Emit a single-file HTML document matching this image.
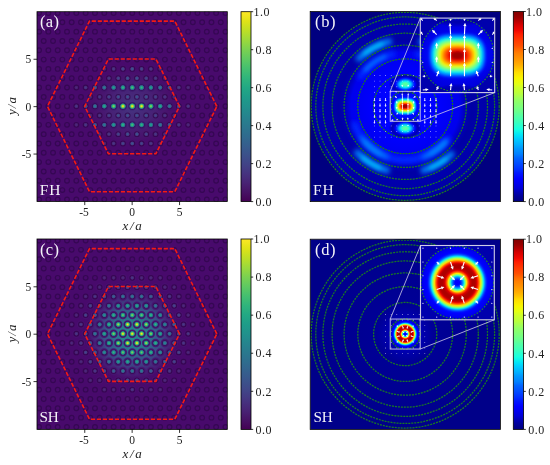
<!DOCTYPE html><html><head><meta charset="utf-8"><title>Figure</title><style>html,body{margin:0;padding:0;background:#fff;}svg{display:block;}</style></head><body><svg width="550" height="465" viewBox="0 0 550 465" font-family="'Liberation Serif', 'DejaVu Serif', serif"><defs><linearGradient id="gvir" x1="0" y1="1" x2="0" y2="0"><stop offset="0" stop-color="#440154"/><stop offset="0.05" stop-color="#471365"/><stop offset="0.1" stop-color="#482475"/><stop offset="0.15" stop-color="#463480"/><stop offset="0.2" stop-color="#414487"/><stop offset="0.25" stop-color="#3b528b"/><stop offset="0.3" stop-color="#355f8d"/><stop offset="0.35" stop-color="#2f6c8e"/><stop offset="0.4" stop-color="#2a788e"/><stop offset="0.45" stop-color="#25848e"/><stop offset="0.5" stop-color="#21918c"/><stop offset="0.55" stop-color="#1e9c89"/><stop offset="0.6" stop-color="#22a884"/><stop offset="0.65" stop-color="#2fb47c"/><stop offset="0.7" stop-color="#44bf70"/><stop offset="0.75" stop-color="#5ec962"/><stop offset="0.8" stop-color="#7ad151"/><stop offset="0.85" stop-color="#9bd93c"/><stop offset="0.9" stop-color="#bddf26"/><stop offset="0.95" stop-color="#dfe318"/><stop offset="1" stop-color="#fde725"/></linearGradient><linearGradient id="gjet" x1="0" y1="1" x2="0" y2="0"><stop offset="0" stop-color="#000080"/><stop offset="0.03" stop-color="#00009b"/><stop offset="0.05" stop-color="#0000b6"/><stop offset="0.07" stop-color="#0000d6"/><stop offset="0.1" stop-color="#0000f1"/><stop offset="0.12" stop-color="#0000ff"/><stop offset="0.15" stop-color="#0018ff"/><stop offset="0.17" stop-color="#0030ff"/><stop offset="0.2" stop-color="#004cff"/><stop offset="0.23" stop-color="#0064ff"/><stop offset="0.25" stop-color="#0080ff"/><stop offset="0.28" stop-color="#0098ff"/><stop offset="0.3" stop-color="#00b0ff"/><stop offset="0.33" stop-color="#00ccff"/><stop offset="0.35" stop-color="#00e4f8"/><stop offset="0.38" stop-color="#16ffe1"/><stop offset="0.4" stop-color="#29ffce"/><stop offset="0.42" stop-color="#3cffba"/><stop offset="0.45" stop-color="#53ffa4"/><stop offset="0.47" stop-color="#66ff90"/><stop offset="0.5" stop-color="#7dff7a"/><stop offset="0.53" stop-color="#90ff66"/><stop offset="0.55" stop-color="#a4ff53"/><stop offset="0.57" stop-color="#baff3c"/><stop offset="0.6" stop-color="#ceff29"/><stop offset="0.62" stop-color="#e4ff13"/><stop offset="0.65" stop-color="#f8f500"/><stop offset="0.68" stop-color="#ffde00"/><stop offset="0.7" stop-color="#ffc400"/><stop offset="0.72" stop-color="#ffae00"/><stop offset="0.75" stop-color="#ff9400"/><stop offset="0.78" stop-color="#ff7e00"/><stop offset="0.8" stop-color="#ff6800"/><stop offset="0.82" stop-color="#ff4e00"/><stop offset="0.85" stop-color="#ff3800"/><stop offset="0.88" stop-color="#ff1e00"/><stop offset="0.9" stop-color="#f10800"/><stop offset="0.93" stop-color="#d60000"/><stop offset="0.95" stop-color="#b60000"/><stop offset="0.97" stop-color="#9b0000"/><stop offset="1" stop-color="#800000"/></linearGradient><clipPath id="clipa"><rect x="37" y="11.7" width="190.3" height="189.9"/></clipPath><clipPath id="clipb"><rect x="310.2" y="11.5" width="190.2" height="190.1"/></clipPath><clipPath id="clipc"><rect x="37" y="239" width="190.3" height="190.4"/></clipPath><clipPath id="clipd"><rect x="310.2" y="239.2" width="190.2" height="190.2"/></clipPath><radialGradient id="sp0"><stop offset="0" stop-color="#460a5d" stop-opacity="1"/><stop offset="0.3" stop-color="#46085c" stop-opacity="1"/><stop offset="0.55" stop-color="#46075a" stop-opacity="1"/><stop offset="0.8" stop-color="#450457" stop-opacity="0.85"/><stop offset="1" stop-color="#440256" stop-opacity="0"/></radialGradient><radialGradient id="sp1"><stop offset="0" stop-color="#481c6e" stop-opacity="1"/><stop offset="0.3" stop-color="#481a6c" stop-opacity="1"/><stop offset="0.55" stop-color="#481467" stop-opacity="1"/><stop offset="0.8" stop-color="#470d60" stop-opacity="0.85"/><stop offset="1" stop-color="#46075a" stop-opacity="0"/></radialGradient><radialGradient id="sp2"><stop offset="0" stop-color="#472d7b" stop-opacity="1"/><stop offset="0.3" stop-color="#482878" stop-opacity="1"/><stop offset="0.55" stop-color="#482071" stop-opacity="1"/><stop offset="0.8" stop-color="#481668" stop-opacity="0.85"/><stop offset="1" stop-color="#470d60" stop-opacity="0"/></radialGradient><radialGradient id="sp3"><stop offset="0" stop-color="#443b84" stop-opacity="1"/><stop offset="0.3" stop-color="#453781" stop-opacity="1"/><stop offset="0.55" stop-color="#472c7a" stop-opacity="1"/><stop offset="0.8" stop-color="#481d6f" stop-opacity="0.85"/><stop offset="1" stop-color="#471164" stop-opacity="0"/></radialGradient><radialGradient id="sp4"><stop offset="0" stop-color="#3e4a89" stop-opacity="1"/><stop offset="0.3" stop-color="#414487" stop-opacity="1"/><stop offset="0.55" stop-color="#453781" stop-opacity="1"/><stop offset="0.8" stop-color="#482475" stop-opacity="0.85"/><stop offset="1" stop-color="#481668" stop-opacity="0"/></radialGradient><radialGradient id="sp5"><stop offset="0" stop-color="#38598c" stop-opacity="1"/><stop offset="0.3" stop-color="#3b518b" stop-opacity="1"/><stop offset="0.55" stop-color="#424186" stop-opacity="1"/><stop offset="0.8" stop-color="#472c7a" stop-opacity="0.85"/><stop offset="1" stop-color="#481a6c" stop-opacity="0"/></radialGradient><radialGradient id="sp6"><stop offset="0" stop-color="#31668e" stop-opacity="1"/><stop offset="0.3" stop-color="#365d8d" stop-opacity="1"/><stop offset="0.55" stop-color="#3e4c8a" stop-opacity="1"/><stop offset="0.8" stop-color="#46337f" stop-opacity="0.85"/><stop offset="1" stop-color="#481d6f" stop-opacity="0"/></radialGradient><radialGradient id="sp7"><stop offset="0" stop-color="#2c728e" stop-opacity="1"/><stop offset="0.3" stop-color="#30698e" stop-opacity="1"/><stop offset="0.55" stop-color="#39558c" stop-opacity="1"/><stop offset="0.8" stop-color="#443a83" stop-opacity="0.85"/><stop offset="1" stop-color="#482374" stop-opacity="0"/></radialGradient><radialGradient id="sp8"><stop offset="0" stop-color="#277e8e" stop-opacity="1"/><stop offset="0.3" stop-color="#2c738e" stop-opacity="1"/><stop offset="0.55" stop-color="#355f8d" stop-opacity="1"/><stop offset="0.8" stop-color="#424086" stop-opacity="0.85"/><stop offset="1" stop-color="#482677" stop-opacity="0"/></radialGradient><radialGradient id="sp9"><stop offset="0" stop-color="#238a8d" stop-opacity="1"/><stop offset="0.3" stop-color="#277f8e" stop-opacity="1"/><stop offset="0.55" stop-color="#31688e" stop-opacity="1"/><stop offset="0.8" stop-color="#3f4788" stop-opacity="0.85"/><stop offset="1" stop-color="#472a7a" stop-opacity="0"/></radialGradient><radialGradient id="sp10"><stop offset="0" stop-color="#1f968b" stop-opacity="1"/><stop offset="0.3" stop-color="#23898e" stop-opacity="1"/><stop offset="0.55" stop-color="#2d718e" stop-opacity="1"/><stop offset="0.8" stop-color="#3d4e8a" stop-opacity="0.85"/><stop offset="1" stop-color="#472e7c" stop-opacity="0"/></radialGradient><radialGradient id="sp11"><stop offset="0" stop-color="#1fa287" stop-opacity="1"/><stop offset="0.3" stop-color="#1f948c" stop-opacity="1"/><stop offset="0.55" stop-color="#29798e" stop-opacity="1"/><stop offset="0.8" stop-color="#3a548c" stop-opacity="0.85"/><stop offset="1" stop-color="#46327e" stop-opacity="0"/></radialGradient><radialGradient id="sp12"><stop offset="0" stop-color="#28ae80" stop-opacity="1"/><stop offset="0.3" stop-color="#1fa088" stop-opacity="1"/><stop offset="0.55" stop-color="#26828e" stop-opacity="1"/><stop offset="0.8" stop-color="#375b8d" stop-opacity="0.85"/><stop offset="1" stop-color="#453781" stop-opacity="0"/></radialGradient><radialGradient id="sp13"><stop offset="0" stop-color="#38b977" stop-opacity="1"/><stop offset="0.3" stop-color="#24aa83" stop-opacity="1"/><stop offset="0.55" stop-color="#23898e" stop-opacity="1"/><stop offset="0.8" stop-color="#34608d" stop-opacity="0.85"/><stop offset="1" stop-color="#443a83" stop-opacity="0"/></radialGradient><radialGradient id="sp14"><stop offset="0" stop-color="#50c46a" stop-opacity="1"/><stop offset="0.3" stop-color="#31b57b" stop-opacity="1"/><stop offset="0.55" stop-color="#20928c" stop-opacity="1"/><stop offset="0.8" stop-color="#31668e" stop-opacity="0.85"/><stop offset="1" stop-color="#433e85" stop-opacity="0"/></radialGradient><radialGradient id="sp15"><stop offset="0" stop-color="#6ccd5a" stop-opacity="1"/><stop offset="0.3" stop-color="#42be71" stop-opacity="1"/><stop offset="0.55" stop-color="#1f9a8a" stop-opacity="1"/><stop offset="0.8" stop-color="#2f6c8e" stop-opacity="0.85"/><stop offset="1" stop-color="#424186" stop-opacity="0"/></radialGradient><radialGradient id="sp16"><stop offset="0" stop-color="#8bd646" stop-opacity="1"/><stop offset="0.3" stop-color="#5ac864" stop-opacity="1"/><stop offset="0.55" stop-color="#1fa287" stop-opacity="1"/><stop offset="0.8" stop-color="#2c718e" stop-opacity="0.85"/><stop offset="1" stop-color="#404588" stop-opacity="0"/></radialGradient><radialGradient id="sp17"><stop offset="0" stop-color="#addc30" stop-opacity="1"/><stop offset="0.3" stop-color="#73d056" stop-opacity="1"/><stop offset="0.55" stop-color="#25ab82" stop-opacity="1"/><stop offset="0.8" stop-color="#2a768e" stop-opacity="0.85"/><stop offset="1" stop-color="#3e4989" stop-opacity="0"/></radialGradient><radialGradient id="sp18"><stop offset="0" stop-color="#cde11d" stop-opacity="1"/><stop offset="0.3" stop-color="#90d743" stop-opacity="1"/><stop offset="0.55" stop-color="#2eb37c" stop-opacity="1"/><stop offset="0.8" stop-color="#287c8e" stop-opacity="0.85"/><stop offset="1" stop-color="#3d4d8a" stop-opacity="0"/></radialGradient><radialGradient id="sp19"><stop offset="0" stop-color="#fde725" stop-opacity="1"/><stop offset="0.3" stop-color="#bddf26" stop-opacity="1"/><stop offset="0.55" stop-color="#44bf70" stop-opacity="1"/><stop offset="0.8" stop-color="#25848e" stop-opacity="0.85"/><stop offset="1" stop-color="#3b528b" stop-opacity="0"/></radialGradient><radialGradient id="glowa"><stop offset="0" stop-color="#443a83" stop-opacity="0.9"/><stop offset="0.5" stop-color="#472a7a" stop-opacity="0.7"/><stop offset="0.8" stop-color="#481d6f" stop-opacity="0.4"/><stop offset="1" stop-color="#471365" stop-opacity="0"/></radialGradient><radialGradient id="glowc"><stop offset="0" stop-color="#228b8d" stop-opacity="1"/><stop offset="0.3" stop-color="#2a788e" stop-opacity="1"/><stop offset="0.6" stop-color="#375a8c" stop-opacity="0.85"/><stop offset="0.85" stop-color="#46307e" stop-opacity="0.5"/><stop offset="1" stop-color="#460b5e" stop-opacity="0"/></radialGradient><filter id="fbl" x="-20%" y="-20%" width="140%" height="140%"><feGaussianBlur stdDeviation="0.38"/></filter><g id="fhblob" filter="url(#fbl)"><path d="M11.51 -0 L11.48 -1.29 L11.33 -2.59 L11.03 -3.86 L10.54 -5.08 L9.83 -6.18 L8.91 -7.11 L7.81 -7.81 L6.61 -8.29 L5.39 -8.58 L4.21 -8.73 L3.08 -8.81 L2.02 -8.83 L1 -8.84 L0 -8.84 L-1 -8.84 L-2.02 -8.83 L-3.08 -8.81 L-4.21 -8.73 L-5.39 -8.58 L-6.61 -8.29 L-7.81 -7.81 L-8.91 -7.11 L-9.83 -6.18 L-10.54 -5.08 L-11.03 -3.86 L-11.33 -2.59 L-11.48 -1.29 L-11.51 -0 L-11.48 1.29 L-11.33 2.59 L-11.03 3.86 L-10.54 5.08 L-9.83 6.18 L-8.91 7.11 L-7.81 7.81 L-6.61 8.29 L-5.39 8.58 L-4.21 8.73 L-3.08 8.81 L-2.02 8.83 L-1 8.84 L-0 8.84 L1 8.84 L2.02 8.83 L3.08 8.81 L4.21 8.73 L5.39 8.58 L6.61 8.29 L7.81 7.81 L8.91 7.11 L9.83 6.18 L10.54 5.08 L11.03 3.86 L11.33 2.59 L11.48 1.29Z" fill="#0040ff"/><path d="M10.84 -0 L10.81 -1.22 L10.67 -2.43 L10.37 -3.63 L9.88 -4.76 L9.18 -5.77 L8.28 -6.6 L7.23 -7.23 L6.09 -7.64 L4.95 -7.89 L3.86 -8.02 L2.83 -8.08 L1.85 -8.1 L0.91 -8.11 L0 -8.11 L-0.91 -8.11 L-1.85 -8.1 L-2.83 -8.08 L-3.86 -8.02 L-4.95 -7.89 L-6.09 -7.64 L-7.23 -7.23 L-8.28 -6.6 L-9.18 -5.77 L-9.88 -4.76 L-10.37 -3.63 L-10.67 -2.43 L-10.81 -1.22 L-10.84 -0 L-10.81 1.22 L-10.67 2.43 L-10.37 3.63 L-9.88 4.76 L-9.18 5.77 L-8.28 6.6 L-7.23 7.23 L-6.09 7.64 L-4.95 7.89 L-3.86 8.02 L-2.83 8.08 L-1.85 8.1 L-0.91 8.11 L-0 8.11 L0.91 8.11 L1.85 8.1 L2.83 8.08 L3.86 8.02 L4.95 7.89 L6.09 7.64 L7.23 7.23 L8.28 6.6 L9.18 5.77 L9.88 4.76 L10.37 3.63 L10.67 2.43 L10.81 1.22Z" fill="#0080ff"/><path d="M10.26 -0 L10.23 -1.15 L10.08 -2.3 L9.79 -3.42 L9.3 -4.48 L8.61 -5.41 L7.73 -6.17 L6.72 -6.72 L5.65 -7.08 L4.58 -7.29 L3.57 -7.4 L2.61 -7.46 L1.71 -7.48 L0.84 -7.48 L0 -7.48 L-0.84 -7.48 L-1.71 -7.48 L-2.61 -7.46 L-3.57 -7.4 L-4.58 -7.29 L-5.65 -7.08 L-6.72 -6.72 L-7.73 -6.17 L-8.61 -5.41 L-9.3 -4.48 L-9.79 -3.42 L-10.08 -2.3 L-10.23 -1.15 L-10.26 -0 L-10.23 1.15 L-10.08 2.3 L-9.79 3.42 L-9.3 4.48 L-8.61 5.41 L-7.73 6.17 L-6.72 6.72 L-5.65 7.08 L-4.58 7.29 L-3.57 7.4 L-2.61 7.46 L-1.71 7.48 L-0.84 7.48 L-0 7.48 L0.84 7.48 L1.71 7.48 L2.61 7.46 L3.57 7.4 L4.58 7.29 L5.65 7.08 L6.72 6.72 L7.73 6.17 L8.61 5.41 L9.3 4.48 L9.79 3.42 L10.08 2.3 L10.23 1.15Z" fill="#00bcff"/><path d="M9.73 -0 L9.69 -1.09 L9.55 -2.18 L9.25 -3.24 L8.76 -4.22 L8.08 -5.08 L7.23 -5.77 L6.26 -6.26 L5.24 -6.57 L4.25 -6.76 L3.3 -6.85 L2.41 -6.9 L1.58 -6.92 L0.78 -6.92 L0 -6.92 L-0.78 -6.92 L-1.58 -6.92 L-2.41 -6.9 L-3.3 -6.85 L-4.25 -6.76 L-5.24 -6.57 L-6.26 -6.26 L-7.23 -5.77 L-8.08 -5.08 L-8.76 -4.22 L-9.25 -3.24 L-9.55 -2.18 L-9.69 -1.09 L-9.73 -0 L-9.69 1.09 L-9.55 2.18 L-9.25 3.24 L-8.76 4.22 L-8.08 5.08 L-7.23 5.77 L-6.26 6.26 L-5.24 6.57 L-4.25 6.76 L-3.3 6.85 L-2.41 6.9 L-1.58 6.92 L-0.78 6.92 L-0 6.92 L0.78 6.92 L1.58 6.92 L2.41 6.9 L3.3 6.85 L4.25 6.76 L5.24 6.57 L6.26 6.26 L7.23 5.77 L8.08 5.08 L8.76 4.22 L9.25 3.24 L9.55 2.18 L9.69 1.09Z" fill="#0ff8e7"/><path d="M9.21 -0 L9.18 -1.03 L9.03 -2.06 L8.73 -3.06 L8.25 -3.97 L7.58 -4.76 L6.75 -5.39 L5.82 -5.82 L4.86 -6.1 L3.93 -6.26 L3.05 -6.34 L2.23 -6.38 L1.46 -6.39 L0.72 -6.4 L0 -6.4 L-0.72 -6.4 L-1.46 -6.39 L-2.23 -6.38 L-3.05 -6.34 L-3.93 -6.26 L-4.86 -6.1 L-5.82 -5.82 L-6.75 -5.39 L-7.58 -4.76 L-8.25 -3.97 L-8.73 -3.06 L-9.03 -2.06 L-9.18 -1.03 L-9.21 -0 L-9.18 1.03 L-9.03 2.06 L-8.73 3.06 L-8.25 3.97 L-7.58 4.76 L-6.75 5.39 L-5.82 5.82 L-4.86 6.1 L-3.93 6.26 L-3.05 6.34 L-2.23 6.38 L-1.46 6.39 L-0.72 6.4 L-0 6.4 L0.72 6.4 L1.46 6.39 L2.23 6.38 L3.05 6.34 L3.93 6.26 L4.86 6.1 L5.82 5.82 L6.75 5.39 L7.58 4.76 L8.25 3.97 L8.73 3.06 L9.03 2.06 L9.18 1.03Z" fill="#43ffb4"/><path d="M8.71 -0 L8.67 -0.98 L8.53 -1.95 L8.23 -2.88 L7.75 -3.73 L7.09 -4.46 L6.29 -5.01 L5.4 -5.4 L4.5 -5.64 L3.63 -5.77 L2.81 -5.84 L2.06 -5.88 L1.34 -5.89 L0.66 -5.9 L0 -5.9 L-0.66 -5.9 L-1.34 -5.89 L-2.06 -5.88 L-2.81 -5.84 L-3.63 -5.77 L-4.5 -5.64 L-5.4 -5.4 L-6.29 -5.01 L-7.09 -4.46 L-7.75 -3.73 L-8.23 -2.88 L-8.53 -1.95 L-8.67 -0.98 L-8.71 -0 L-8.67 0.98 L-8.53 1.95 L-8.23 2.88 L-7.75 3.73 L-7.09 4.46 L-6.29 5.01 L-5.4 5.4 L-4.5 5.64 L-3.63 5.77 L-2.81 5.84 L-2.06 5.88 L-1.34 5.89 L-0.66 5.9 L-0 5.9 L0.66 5.9 L1.34 5.89 L2.06 5.88 L2.81 5.84 L3.63 5.77 L4.5 5.64 L5.4 5.4 L6.29 5.01 L7.09 4.46 L7.75 3.73 L8.23 2.88 L8.53 1.95 L8.67 0.98Z" fill="#73ff83"/><path d="M8.2 -0 L8.16 -0.92 L8.01 -1.83 L7.71 -2.7 L7.24 -3.49 L6.59 -4.14 L5.82 -4.64 L4.98 -4.98 L4.13 -5.18 L3.33 -5.3 L2.58 -5.36 L1.89 -5.39 L1.23 -5.4 L0.61 -5.41 L0 -5.41 L-0.61 -5.41 L-1.23 -5.4 L-1.89 -5.39 L-2.58 -5.36 L-3.33 -5.3 L-4.13 -5.18 L-4.98 -4.98 L-5.82 -4.64 L-6.59 -4.14 L-7.24 -3.49 L-7.71 -2.7 L-8.01 -1.83 L-8.16 -0.92 L-8.2 -0 L-8.16 0.92 L-8.01 1.83 L-7.71 2.7 L-7.24 3.49 L-6.59 4.14 L-5.82 4.64 L-4.98 4.98 L-4.13 5.18 L-3.33 5.3 L-2.58 5.36 L-1.89 5.39 L-1.23 5.4 L-0.61 5.41 L-0 5.41 L0.61 5.41 L1.23 5.4 L1.89 5.39 L2.58 5.36 L3.33 5.3 L4.13 5.18 L4.98 4.98 L5.82 4.64 L6.59 4.14 L7.24 3.49 L7.71 2.7 L8.01 1.83 L8.16 0.92Z" fill="#a4ff53"/><path d="M7.66 -0 L7.63 -0.86 L7.48 -1.71 L7.18 -2.51 L6.71 -3.23 L6.08 -3.82 L5.34 -4.26 L4.55 -4.55 L3.77 -4.72 L3.03 -4.82 L2.35 -4.88 L1.72 -4.9 L1.12 -4.92 L0.55 -4.92 L0 -4.93 L-0.55 -4.92 L-1.12 -4.92 L-1.72 -4.9 L-2.35 -4.88 L-3.03 -4.82 L-3.77 -4.72 L-4.55 -4.55 L-5.34 -4.26 L-6.08 -3.82 L-6.71 -3.23 L-7.18 -2.51 L-7.48 -1.71 L-7.63 -0.86 L-7.66 -0 L-7.63 0.86 L-7.48 1.71 L-7.18 2.51 L-6.71 3.23 L-6.08 3.82 L-5.34 4.26 L-4.55 4.55 L-3.77 4.72 L-3.03 4.82 L-2.35 4.88 L-1.72 4.9 L-1.12 4.92 L-0.55 4.92 L-0 4.93 L0.55 4.92 L1.12 4.92 L1.72 4.9 L2.35 4.88 L3.03 4.82 L3.77 4.72 L4.55 4.55 L5.34 4.26 L6.08 3.82 L6.71 3.23 L7.18 2.51 L7.48 1.71 L7.63 0.86Z" fill="#d7ff1f"/><path d="M7.09 -0 L7.06 -0.8 L6.91 -1.58 L6.61 -2.31 L6.14 -2.96 L5.54 -3.48 L4.83 -3.85 L4.1 -4.1 L3.39 -4.25 L2.73 -4.34 L2.11 -4.39 L1.54 -4.41 L1.01 -4.43 L0.5 -4.44 L0 -4.44 L-0.5 -4.44 L-1.01 -4.43 L-1.54 -4.41 L-2.11 -4.39 L-2.73 -4.34 L-3.39 -4.25 L-4.1 -4.1 L-4.83 -3.85 L-5.54 -3.48 L-6.14 -2.96 L-6.61 -2.31 L-6.91 -1.58 L-7.06 -0.8 L-7.09 -0 L-7.06 0.8 L-6.91 1.58 L-6.61 2.31 L-6.14 2.96 L-5.54 3.48 L-4.83 3.85 L-4.1 4.1 L-3.39 4.25 L-2.73 4.34 L-2.11 4.39 L-1.54 4.41 L-1.01 4.43 L-0.5 4.44 L-0 4.44 L0.5 4.44 L1.01 4.43 L1.54 4.41 L2.11 4.39 L2.73 4.34 L3.39 4.25 L4.1 4.1 L4.83 3.85 L5.54 3.48 L6.14 2.96 L6.61 2.31 L6.91 1.58 L7.06 0.8Z" fill="#ffe200"/><path d="M6.46 -0 L6.43 -0.72 L6.28 -1.43 L5.98 -2.09 L5.52 -2.66 L4.94 -3.11 L4.29 -3.42 L3.63 -3.63 L3 -3.76 L2.41 -3.84 L1.87 -3.89 L1.37 -3.91 L0.9 -3.93 L0.44 -3.94 L0 -3.94 L-0.44 -3.94 L-0.9 -3.93 L-1.37 -3.91 L-1.87 -3.89 L-2.41 -3.84 L-3 -3.76 L-3.63 -3.63 L-4.29 -3.42 L-4.94 -3.11 L-5.52 -2.66 L-5.98 -2.09 L-6.28 -1.43 L-6.43 -0.72 L-6.46 -0 L-6.43 0.72 L-6.28 1.43 L-5.98 2.09 L-5.52 2.66 L-4.94 3.11 L-4.29 3.42 L-3.63 3.63 L-3 3.76 L-2.41 3.84 L-1.87 3.89 L-1.37 3.91 L-0.9 3.93 L-0.44 3.94 L-0 3.94 L0.44 3.94 L0.9 3.93 L1.37 3.91 L1.87 3.89 L2.41 3.84 L3 3.76 L3.63 3.63 L4.29 3.42 L4.94 3.11 L5.52 2.66 L5.98 2.09 L6.28 1.43 L6.43 0.72Z" fill="#ffab00"/><path d="M5.74 -0 L5.71 -0.64 L5.55 -1.27 L5.26 -1.84 L4.83 -2.32 L4.29 -2.7 L3.71 -2.96 L3.13 -3.13 L2.59 -3.25 L2.09 -3.32 L1.62 -3.37 L1.19 -3.4 L0.78 -3.41 L0.39 -3.42 L0 -3.43 L-0.39 -3.42 L-0.78 -3.41 L-1.19 -3.4 L-1.62 -3.37 L-2.09 -3.32 L-2.59 -3.25 L-3.13 -3.13 L-3.71 -2.96 L-4.29 -2.7 L-4.83 -2.32 L-5.26 -1.84 L-5.55 -1.27 L-5.71 -0.64 L-5.74 -0 L-5.71 0.64 L-5.55 1.27 L-5.26 1.84 L-4.83 2.32 L-4.29 2.7 L-3.71 2.96 L-3.13 3.13 L-2.59 3.25 L-2.09 3.32 L-1.62 3.37 L-1.19 3.4 L-0.78 3.41 L-0.39 3.42 L-0 3.43 L0.39 3.42 L0.78 3.41 L1.19 3.4 L1.62 3.37 L2.09 3.32 L2.59 3.25 L3.13 3.13 L3.71 2.96 L4.29 2.7 L4.83 2.32 L5.26 1.84 L5.55 1.27 L5.71 0.64Z" fill="#ff6f00"/><path d="M4.89 -0 L4.85 -0.55 L4.7 -1.07 L4.42 -1.55 L4.03 -1.94 L3.57 -2.24 L3.08 -2.46 L2.61 -2.61 L2.16 -2.71 L1.74 -2.78 L1.36 -2.82 L1 -2.85 L0.66 -2.87 L0.33 -2.88 L0 -2.89 L-0.33 -2.88 L-0.66 -2.87 L-1 -2.85 L-1.36 -2.82 L-1.74 -2.78 L-2.16 -2.71 L-2.61 -2.61 L-3.08 -2.46 L-3.57 -2.24 L-4.03 -1.94 L-4.42 -1.55 L-4.7 -1.07 L-4.85 -0.55 L-4.89 -0 L-4.85 0.55 L-4.7 1.07 L-4.42 1.55 L-4.03 1.94 L-3.57 2.24 L-3.08 2.46 L-2.61 2.61 L-2.16 2.71 L-1.74 2.78 L-1.36 2.82 L-1 2.85 L-0.66 2.87 L-0.33 2.88 L-0 2.89 L0.33 2.88 L0.66 2.87 L1 2.85 L1.36 2.82 L1.74 2.78 L2.16 2.71 L2.61 2.61 L3.08 2.46 L3.57 2.24 L4.03 1.94 L4.42 1.55 L4.7 1.07 L4.85 0.55Z" fill="#ff3800"/><path d="M3.85 -0 L3.81 -0.43 L3.68 -0.84 L3.44 -1.2 L3.13 -1.51 L2.77 -1.74 L2.4 -1.91 L2.04 -2.04 L1.7 -2.13 L1.38 -2.19 L1.08 -2.23 L0.79 -2.26 L0.52 -2.28 L0.26 -2.3 L0 -2.3 L-0.26 -2.3 L-0.52 -2.28 L-0.79 -2.26 L-1.08 -2.23 L-1.38 -2.19 L-1.7 -2.13 L-2.04 -2.04 L-2.4 -1.91 L-2.77 -1.74 L-3.13 -1.51 L-3.44 -1.2 L-3.68 -0.84 L-3.81 -0.43 L-3.85 -0 L-3.81 0.43 L-3.68 0.84 L-3.44 1.2 L-3.13 1.51 L-2.77 1.74 L-2.4 1.91 L-2.04 2.04 L-1.7 2.13 L-1.38 2.19 L-1.08 2.23 L-0.79 2.26 L-0.52 2.28 L-0.26 2.3 L-0 2.3 L0.26 2.3 L0.52 2.28 L0.79 2.26 L1.08 2.23 L1.38 2.19 L1.7 2.13 L2.04 2.04 L2.4 1.91 L2.77 1.74 L3.13 1.51 L3.44 1.2 L3.68 0.84 L3.81 0.43Z" fill="#e80000"/><path d="M2.58 -0 L2.55 -0.29 L2.45 -0.56 L2.29 -0.8 L2.09 -1.01 L1.86 -1.17 L1.62 -1.29 L1.38 -1.38 L1.16 -1.45 L0.94 -1.5 L0.74 -1.54 L0.55 -1.57 L0.36 -1.58 L0.18 -1.59 L0 -1.6 L-0.18 -1.59 L-0.36 -1.58 L-0.55 -1.57 L-0.74 -1.54 L-0.94 -1.5 L-1.16 -1.45 L-1.38 -1.38 L-1.62 -1.29 L-1.86 -1.17 L-2.09 -1.01 L-2.29 -0.8 L-2.45 -0.56 L-2.55 -0.29 L-2.58 -0 L-2.55 0.29 L-2.45 0.56 L-2.29 0.8 L-2.09 1.01 L-1.86 1.17 L-1.62 1.29 L-1.38 1.38 L-1.16 1.45 L-0.94 1.5 L-0.74 1.54 L-0.55 1.57 L-0.36 1.58 L-0.18 1.59 L-0 1.6 L0.18 1.59 L0.36 1.58 L0.55 1.57 L0.74 1.54 L0.94 1.5 L1.16 1.45 L1.38 1.38 L1.62 1.29 L1.86 1.17 L2.09 1.01 L2.29 0.8 L2.45 0.56 L2.55 0.29Z" fill="#9f0000"/></g><radialGradient id="inb"><stop offset="0" stop-color="#0000f1"/><stop offset="0.9" stop-color="#0000df"/><stop offset="1" stop-color="#0000c4" stop-opacity="0"/></radialGradient><radialGradient id="inb2"><stop offset="0" stop-color="#002cff"/><stop offset="0.6" stop-color="#000cff" stop-opacity="0.9"/><stop offset="1" stop-color="#0000f1" stop-opacity="0"/></radialGradient><radialGradient id="ind"><stop offset="0" stop-color="#0000ff"/><stop offset="0.9" stop-color="#0000f1"/><stop offset="1" stop-color="#0000c4" stop-opacity="0"/></radialGradient><filter id="fb3" x="-30%" y="-30%" width="160%" height="160%"><feGaussianBlur stdDeviation="2.4"/></filter><filter id="fb2" x="-30%" y="-30%" width="160%" height="160%"><feGaussianBlur stdDeviation="2"/></filter><radialGradient id="bgb"><stop offset="0" stop-color="#000cff"/><stop offset="0.2" stop-color="#0004ff"/><stop offset="0.33" stop-color="#0000ff"/><stop offset="0.5" stop-color="#0000f1"/><stop offset="0.57" stop-color="#0000ed"/><stop offset="0.64" stop-color="#0000b6"/><stop offset="0.7" stop-color="#0000a4"/><stop offset="0.8" stop-color="#0000ad"/><stop offset="0.97" stop-color="#0000a4"/><stop offset="1" stop-color="#000080" stop-opacity="0"/></radialGradient><radialGradient id="bgd"><stop offset="0" stop-color="#0000ff"/><stop offset="0.1" stop-color="#0000f1"/><stop offset="0.17" stop-color="#0000b2"/><stop offset="0.3" stop-color="#000096"/><stop offset="0.9" stop-color="#00008d"/><stop offset="1" stop-color="#000089"/></radialGradient><radialGradient id="bl1"><stop offset="0" stop-color="#5aff9d" stop-opacity="1"/><stop offset="0.1" stop-color="#53ffa4" stop-opacity="1"/><stop offset="0.2" stop-color="#36ffc1" stop-opacity="1"/><stop offset="0.3" stop-color="#02e8f4" stop-opacity="1"/><stop offset="0.4" stop-color="#0098ff" stop-opacity="1"/><stop offset="0.5" stop-color="#0040ff" stop-opacity="1"/><stop offset="0.6" stop-color="#0000ff" stop-opacity="1"/><stop offset="0.7" stop-color="#0000c8" stop-opacity="1"/><stop offset="0.8" stop-color="#00009f" stop-opacity="0.8"/><stop offset="0.9" stop-color="#00008d" stop-opacity="0.4"/><stop offset="1" stop-color="#000084" stop-opacity="0"/></radialGradient><radialGradient id="bl2"><stop offset="0" stop-color="#5aff9d" stop-opacity="1"/><stop offset="0.1" stop-color="#53ffa4" stop-opacity="1"/><stop offset="0.2" stop-color="#36ffc1" stop-opacity="1"/><stop offset="0.3" stop-color="#02e8f4" stop-opacity="1"/><stop offset="0.4" stop-color="#0098ff" stop-opacity="1"/><stop offset="0.5" stop-color="#0040ff" stop-opacity="1"/><stop offset="0.6" stop-color="#0000ff" stop-opacity="1"/><stop offset="0.7" stop-color="#0000c8" stop-opacity="1"/><stop offset="0.8" stop-color="#00009f" stop-opacity="0.8"/><stop offset="0.9" stop-color="#00008d" stop-opacity="0.4"/><stop offset="1" stop-color="#000084" stop-opacity="0"/></radialGradient><clipPath id="cinb"><rect x="420.3" y="18.1" width="74.4" height="74.5"/></clipPath><radialGradient id="bl3"><stop offset="0" stop-color="#5aff9d" stop-opacity="1"/><stop offset="0.1" stop-color="#53ffa4" stop-opacity="1"/><stop offset="0.2" stop-color="#36ffc1" stop-opacity="1"/><stop offset="0.3" stop-color="#02e8f4" stop-opacity="1"/><stop offset="0.4" stop-color="#0098ff" stop-opacity="1"/><stop offset="0.5" stop-color="#0040ff" stop-opacity="1"/><stop offset="0.6" stop-color="#0000ff" stop-opacity="1"/><stop offset="0.7" stop-color="#0000c8" stop-opacity="1"/><stop offset="0.8" stop-color="#00009f" stop-opacity="0.8"/><stop offset="0.9" stop-color="#00008d" stop-opacity="0.4"/><stop offset="1" stop-color="#000084" stop-opacity="0"/></radialGradient><radialGradient id="bl4"><stop offset="0" stop-color="#5aff9d" stop-opacity="1"/><stop offset="0.1" stop-color="#53ffa4" stop-opacity="1"/><stop offset="0.2" stop-color="#36ffc1" stop-opacity="1"/><stop offset="0.3" stop-color="#02e8f4" stop-opacity="1"/><stop offset="0.4" stop-color="#0098ff" stop-opacity="1"/><stop offset="0.5" stop-color="#0040ff" stop-opacity="1"/><stop offset="0.6" stop-color="#0000ff" stop-opacity="1"/><stop offset="0.7" stop-color="#0000c8" stop-opacity="1"/><stop offset="0.8" stop-color="#00009f" stop-opacity="0.8"/><stop offset="0.9" stop-color="#00008d" stop-opacity="0.4"/><stop offset="1" stop-color="#000084" stop-opacity="0"/></radialGradient><radialGradient id="dn5"><stop offset="0" stop-color="#0000f6" stop-opacity="1"/><stop offset="0.03" stop-color="#0000ff" stop-opacity="1"/><stop offset="0.06" stop-color="#0000ff" stop-opacity="1"/><stop offset="0.09" stop-color="#0020ff" stop-opacity="1"/><stop offset="0.12" stop-color="#0058ff" stop-opacity="1"/><stop offset="0.16" stop-color="#00b0ff" stop-opacity="1"/><stop offset="0.19" stop-color="#30ffc7" stop-opacity="1"/><stop offset="0.22" stop-color="#9aff5d" stop-opacity="1"/><stop offset="0.25" stop-color="#ffea00" stop-opacity="1"/><stop offset="0.28" stop-color="#ff7e00" stop-opacity="1"/><stop offset="0.31" stop-color="#ff2d00" stop-opacity="1"/><stop offset="0.34" stop-color="#da0000" stop-opacity="1"/><stop offset="0.38" stop-color="#bb0000" stop-opacity="1"/><stop offset="0.41" stop-color="#ad0000" stop-opacity="1"/><stop offset="0.44" stop-color="#ad0000" stop-opacity="1"/><stop offset="0.47" stop-color="#ad0000" stop-opacity="1"/><stop offset="0.5" stop-color="#bb0000" stop-opacity="1"/><stop offset="0.53" stop-color="#df0000" stop-opacity="1"/><stop offset="0.56" stop-color="#ff2d00" stop-opacity="1"/><stop offset="0.59" stop-color="#ff7a00" stop-opacity="1"/><stop offset="0.62" stop-color="#ffdb00" stop-opacity="1"/><stop offset="0.66" stop-color="#aaff4d" stop-opacity="1"/><stop offset="0.69" stop-color="#49ffad" stop-opacity="1"/><stop offset="0.72" stop-color="#00d0ff" stop-opacity="1"/><stop offset="0.75" stop-color="#0074ff" stop-opacity="1"/><stop offset="0.78" stop-color="#0034ff" stop-opacity="1"/><stop offset="0.81" stop-color="#000cff" stop-opacity="1"/><stop offset="0.84" stop-color="#0000ff" stop-opacity="1"/><stop offset="0.88" stop-color="#0000fa" stop-opacity="0.83"/><stop offset="0.91" stop-color="#0000f6" stop-opacity="0.62"/><stop offset="0.94" stop-color="#0000f1" stop-opacity="0.42"/><stop offset="0.97" stop-color="#0000f1" stop-opacity="0.21"/><stop offset="1" stop-color="#0000f1" stop-opacity="0"/></radialGradient><clipPath id="cind"><rect x="420.5" y="245.5" width="73.8" height="74.3"/></clipPath><radialGradient id="dn6"><stop offset="0" stop-color="#0000f6" stop-opacity="1"/><stop offset="0.03" stop-color="#0000ff" stop-opacity="1"/><stop offset="0.06" stop-color="#0000ff" stop-opacity="1"/><stop offset="0.09" stop-color="#0020ff" stop-opacity="1"/><stop offset="0.12" stop-color="#0058ff" stop-opacity="1"/><stop offset="0.16" stop-color="#00b0ff" stop-opacity="1"/><stop offset="0.19" stop-color="#30ffc7" stop-opacity="1"/><stop offset="0.22" stop-color="#9aff5d" stop-opacity="1"/><stop offset="0.25" stop-color="#ffea00" stop-opacity="1"/><stop offset="0.28" stop-color="#ff7e00" stop-opacity="1"/><stop offset="0.31" stop-color="#ff2d00" stop-opacity="1"/><stop offset="0.34" stop-color="#da0000" stop-opacity="1"/><stop offset="0.38" stop-color="#bb0000" stop-opacity="1"/><stop offset="0.41" stop-color="#ad0000" stop-opacity="1"/><stop offset="0.44" stop-color="#ad0000" stop-opacity="1"/><stop offset="0.47" stop-color="#ad0000" stop-opacity="1"/><stop offset="0.5" stop-color="#bb0000" stop-opacity="1"/><stop offset="0.53" stop-color="#df0000" stop-opacity="1"/><stop offset="0.56" stop-color="#ff2d00" stop-opacity="1"/><stop offset="0.59" stop-color="#ff7a00" stop-opacity="1"/><stop offset="0.62" stop-color="#ffdb00" stop-opacity="1"/><stop offset="0.66" stop-color="#aaff4d" stop-opacity="1"/><stop offset="0.69" stop-color="#49ffad" stop-opacity="1"/><stop offset="0.72" stop-color="#00d0ff" stop-opacity="1"/><stop offset="0.75" stop-color="#0074ff" stop-opacity="1"/><stop offset="0.78" stop-color="#0034ff" stop-opacity="1"/><stop offset="0.81" stop-color="#000cff" stop-opacity="1"/><stop offset="0.84" stop-color="#0000ff" stop-opacity="1"/><stop offset="0.88" stop-color="#0000fa" stop-opacity="0.83"/><stop offset="0.91" stop-color="#0000f6" stop-opacity="0.62"/><stop offset="0.94" stop-color="#0000f1" stop-opacity="0.42"/><stop offset="0.97" stop-color="#0000f1" stop-opacity="0.21"/><stop offset="1" stop-color="#0000f1" stop-opacity="0"/></radialGradient></defs><rect width="550" height="465" fill="#fff"/><g clip-path="url(#clipa)"><rect x="37" y="11.7" width="190.3" height="189.9" fill="#480a6c"/><ellipse cx="132.15" cy="106.65" rx="46" ry="40" fill="url(#glowa)"/><g fill="none" stroke="#35146a" stroke-width="1.5"><circle cx="104.29" cy="87.56" r="3.4" stroke-opacity="0.34"/><circle cx="113.61" cy="87.56" r="3.4" stroke-opacity="0.45"/><circle cx="122.93" cy="87.56" r="3.4" stroke-opacity="0.53"/><circle cx="132.25" cy="87.56" r="3.4" stroke-opacity="0.56"/><circle cx="141.57" cy="87.56" r="3.4" stroke-opacity="0.53"/><circle cx="150.89" cy="87.56" r="3.4" stroke-opacity="0.45"/><circle cx="160.21" cy="87.56" r="3.4" stroke-opacity="0.34"/><circle cx="94.97" cy="106.2" r="3.4" stroke-opacity="0.34"/><circle cx="104.29" cy="106.2" r="3.4" stroke-opacity="0.49"/><circle cx="113.61" cy="106.2" r="3.4" stroke-opacity="0.64"/><circle cx="122.93" cy="106.2" r="3.4" stroke-opacity="0.76"/><circle cx="132.25" cy="106.2" r="3.4" stroke-opacity="0.8"/><circle cx="141.57" cy="106.2" r="3.4" stroke-opacity="0.76"/><circle cx="150.89" cy="106.2" r="3.4" stroke-opacity="0.64"/><circle cx="160.21" cy="106.2" r="3.4" stroke-opacity="0.49"/><circle cx="169.53" cy="106.2" r="3.4" stroke-opacity="0.34"/><circle cx="104.29" cy="124.84" r="3.4" stroke-opacity="0.34"/><circle cx="113.61" cy="124.84" r="3.4" stroke-opacity="0.45"/><circle cx="122.93" cy="124.84" r="3.4" stroke-opacity="0.53"/><circle cx="132.25" cy="124.84" r="3.4" stroke-opacity="0.56"/><circle cx="141.57" cy="124.84" r="3.4" stroke-opacity="0.53"/><circle cx="150.89" cy="124.84" r="3.4" stroke-opacity="0.45"/><circle cx="160.21" cy="124.84" r="3.4" stroke-opacity="0.34"/></g><g fill="none" stroke="#2a0644" stroke-opacity="0.62" stroke-width="1.2"><circle cx="39.05" cy="13" r="2.35"/><circle cx="48.37" cy="13" r="2.35"/><circle cx="57.69" cy="13" r="2.35"/><circle cx="67.01" cy="13" r="2.35"/><circle cx="76.33" cy="13" r="2.35"/><circle cx="85.65" cy="13" r="2.35"/><circle cx="94.97" cy="13" r="2.35"/><circle cx="104.29" cy="13" r="2.35"/><circle cx="113.61" cy="13" r="2.35"/><circle cx="122.93" cy="13" r="2.35"/><circle cx="132.25" cy="13" r="2.35"/><circle cx="141.57" cy="13" r="2.35"/><circle cx="150.89" cy="13" r="2.35"/><circle cx="160.21" cy="13" r="2.35"/><circle cx="169.53" cy="13" r="2.35"/><circle cx="178.85" cy="13" r="2.35"/><circle cx="188.17" cy="13" r="2.35"/><circle cx="197.49" cy="13" r="2.35"/><circle cx="206.81" cy="13" r="2.35"/><circle cx="216.13" cy="13" r="2.35"/><circle cx="225.45" cy="13" r="2.35"/><circle cx="34.39" cy="22.32" r="2.35"/><circle cx="43.71" cy="22.32" r="2.35"/><circle cx="53.03" cy="22.32" r="2.35"/><circle cx="62.35" cy="22.32" r="2.35"/><circle cx="71.67" cy="22.32" r="2.35"/><circle cx="80.99" cy="22.32" r="2.35"/><circle cx="90.31" cy="22.32" r="2.35"/><circle cx="99.63" cy="22.32" r="2.35"/><circle cx="108.95" cy="22.32" r="2.35"/><circle cx="118.27" cy="22.32" r="2.35"/><circle cx="127.59" cy="22.32" r="2.35"/><circle cx="136.91" cy="22.32" r="2.35"/><circle cx="146.23" cy="22.32" r="2.35"/><circle cx="155.55" cy="22.32" r="2.35"/><circle cx="164.87" cy="22.32" r="2.35"/><circle cx="174.19" cy="22.32" r="2.35"/><circle cx="183.51" cy="22.32" r="2.35"/><circle cx="192.83" cy="22.32" r="2.35"/><circle cx="202.15" cy="22.32" r="2.35"/><circle cx="211.47" cy="22.32" r="2.35"/><circle cx="220.79" cy="22.32" r="2.35"/><circle cx="230.11" cy="22.32" r="2.35"/><circle cx="39.05" cy="31.64" r="2.35"/><circle cx="48.37" cy="31.64" r="2.35"/><circle cx="57.69" cy="31.64" r="2.35"/><circle cx="67.01" cy="31.64" r="2.35"/><circle cx="76.33" cy="31.64" r="2.35"/><circle cx="85.65" cy="31.64" r="2.35"/><circle cx="94.97" cy="31.64" r="2.35"/><circle cx="104.29" cy="31.64" r="2.35"/><circle cx="113.61" cy="31.64" r="2.35"/><circle cx="122.93" cy="31.64" r="2.35"/><circle cx="132.25" cy="31.64" r="2.35"/><circle cx="141.57" cy="31.64" r="2.35"/><circle cx="150.89" cy="31.64" r="2.35"/><circle cx="160.21" cy="31.64" r="2.35"/><circle cx="169.53" cy="31.64" r="2.35"/><circle cx="178.85" cy="31.64" r="2.35"/><circle cx="188.17" cy="31.64" r="2.35"/><circle cx="197.49" cy="31.64" r="2.35"/><circle cx="206.81" cy="31.64" r="2.35"/><circle cx="216.13" cy="31.64" r="2.35"/><circle cx="225.45" cy="31.64" r="2.35"/><circle cx="34.39" cy="40.96" r="2.35"/><circle cx="43.71" cy="40.96" r="2.35"/><circle cx="53.03" cy="40.96" r="2.35"/><circle cx="62.35" cy="40.96" r="2.35"/><circle cx="71.67" cy="40.96" r="2.35"/><circle cx="80.99" cy="40.96" r="2.35"/><circle cx="90.31" cy="40.96" r="2.35"/><circle cx="99.63" cy="40.96" r="2.35"/><circle cx="108.95" cy="40.96" r="2.35"/><circle cx="118.27" cy="40.96" r="2.35"/><circle cx="127.59" cy="40.96" r="2.35"/><circle cx="136.91" cy="40.96" r="2.35"/><circle cx="146.23" cy="40.96" r="2.35"/><circle cx="155.55" cy="40.96" r="2.35"/><circle cx="164.87" cy="40.96" r="2.35"/><circle cx="174.19" cy="40.96" r="2.35"/><circle cx="183.51" cy="40.96" r="2.35"/><circle cx="192.83" cy="40.96" r="2.35"/><circle cx="202.15" cy="40.96" r="2.35"/><circle cx="211.47" cy="40.96" r="2.35"/><circle cx="220.79" cy="40.96" r="2.35"/><circle cx="230.11" cy="40.96" r="2.35"/><circle cx="39.05" cy="50.28" r="2.35"/><circle cx="48.37" cy="50.28" r="2.35"/><circle cx="57.69" cy="50.28" r="2.35"/><circle cx="67.01" cy="50.28" r="2.35"/><circle cx="76.33" cy="50.28" r="2.35"/><circle cx="85.65" cy="50.28" r="2.35"/><circle cx="94.97" cy="50.28" r="2.35"/><circle cx="104.29" cy="50.28" r="2.35"/><circle cx="113.61" cy="50.28" r="2.35"/><circle cx="122.93" cy="50.28" r="2.35"/><circle cx="132.25" cy="50.28" r="2.35"/><circle cx="141.57" cy="50.28" r="2.35"/><circle cx="150.89" cy="50.28" r="2.35"/><circle cx="160.21" cy="50.28" r="2.35"/><circle cx="169.53" cy="50.28" r="2.35"/><circle cx="178.85" cy="50.28" r="2.35"/><circle cx="188.17" cy="50.28" r="2.35"/><circle cx="197.49" cy="50.28" r="2.35"/><circle cx="206.81" cy="50.28" r="2.35"/><circle cx="216.13" cy="50.28" r="2.35"/><circle cx="225.45" cy="50.28" r="2.35"/><circle cx="34.39" cy="59.6" r="2.35"/><circle cx="43.71" cy="59.6" r="2.35"/><circle cx="53.03" cy="59.6" r="2.35"/><circle cx="62.35" cy="59.6" r="2.35"/><circle cx="71.67" cy="59.6" r="2.35"/><circle cx="80.99" cy="59.6" r="2.35"/><circle cx="90.31" cy="59.6" r="2.35"/><circle cx="99.63" cy="59.6" r="2.35"/><circle cx="108.95" cy="59.6" r="2.35"/><circle cx="118.27" cy="59.6" r="2.35"/><circle cx="127.59" cy="59.6" r="2.35"/><circle cx="136.91" cy="59.6" r="2.35"/><circle cx="146.23" cy="59.6" r="2.35"/><circle cx="155.55" cy="59.6" r="2.35"/><circle cx="164.87" cy="59.6" r="2.35"/><circle cx="174.19" cy="59.6" r="2.35"/><circle cx="183.51" cy="59.6" r="2.35"/><circle cx="192.83" cy="59.6" r="2.35"/><circle cx="202.15" cy="59.6" r="2.35"/><circle cx="211.47" cy="59.6" r="2.35"/><circle cx="220.79" cy="59.6" r="2.35"/><circle cx="230.11" cy="59.6" r="2.35"/><circle cx="39.05" cy="68.92" r="2.35"/><circle cx="48.37" cy="68.92" r="2.35"/><circle cx="57.69" cy="68.92" r="2.35"/><circle cx="67.01" cy="68.92" r="2.35"/><circle cx="76.33" cy="68.92" r="2.35"/><circle cx="85.65" cy="68.92" r="2.35"/><circle cx="94.97" cy="68.92" r="2.35"/><circle cx="104.29" cy="68.92" r="2.35"/><circle cx="113.61" cy="68.92" r="2.35"/><circle cx="122.93" cy="68.92" r="2.35"/><circle cx="132.25" cy="68.92" r="2.35"/><circle cx="141.57" cy="68.92" r="2.35"/><circle cx="150.89" cy="68.92" r="2.35"/><circle cx="160.21" cy="68.92" r="2.35"/><circle cx="169.53" cy="68.92" r="2.35"/><circle cx="178.85" cy="68.92" r="2.35"/><circle cx="188.17" cy="68.92" r="2.35"/><circle cx="197.49" cy="68.92" r="2.35"/><circle cx="206.81" cy="68.92" r="2.35"/><circle cx="216.13" cy="68.92" r="2.35"/><circle cx="225.45" cy="68.92" r="2.35"/><circle cx="34.39" cy="78.24" r="2.35"/><circle cx="43.71" cy="78.24" r="2.35"/><circle cx="53.03" cy="78.24" r="2.35"/><circle cx="62.35" cy="78.24" r="2.35"/><circle cx="71.67" cy="78.24" r="2.35"/><circle cx="80.99" cy="78.24" r="2.35"/><circle cx="90.31" cy="78.24" r="2.35"/><circle cx="99.63" cy="78.24" r="2.35"/><circle cx="108.95" cy="78.24" r="2.35"/><circle cx="118.27" cy="78.24" r="2.35"/><circle cx="127.59" cy="78.24" r="2.35"/><circle cx="136.91" cy="78.24" r="2.35"/><circle cx="146.23" cy="78.24" r="2.35"/><circle cx="155.55" cy="78.24" r="2.35"/><circle cx="164.87" cy="78.24" r="2.35"/><circle cx="174.19" cy="78.24" r="2.35"/><circle cx="183.51" cy="78.24" r="2.35"/><circle cx="192.83" cy="78.24" r="2.35"/><circle cx="202.15" cy="78.24" r="2.35"/><circle cx="211.47" cy="78.24" r="2.35"/><circle cx="220.79" cy="78.24" r="2.35"/><circle cx="230.11" cy="78.24" r="2.35"/><circle cx="39.05" cy="87.56" r="2.35"/><circle cx="48.37" cy="87.56" r="2.35"/><circle cx="57.69" cy="87.56" r="2.35"/><circle cx="67.01" cy="87.56" r="2.35"/><circle cx="76.33" cy="87.56" r="2.35"/><circle cx="85.65" cy="87.56" r="2.35"/><circle cx="94.97" cy="87.56" r="2.35"/><circle cx="104.29" cy="87.56" r="2.35"/><circle cx="113.61" cy="87.56" r="2.35"/><circle cx="122.93" cy="87.56" r="2.35"/><circle cx="132.25" cy="87.56" r="2.35"/><circle cx="141.57" cy="87.56" r="2.35"/><circle cx="150.89" cy="87.56" r="2.35"/><circle cx="160.21" cy="87.56" r="2.35"/><circle cx="169.53" cy="87.56" r="2.35"/><circle cx="178.85" cy="87.56" r="2.35"/><circle cx="188.17" cy="87.56" r="2.35"/><circle cx="197.49" cy="87.56" r="2.35"/><circle cx="206.81" cy="87.56" r="2.35"/><circle cx="216.13" cy="87.56" r="2.35"/><circle cx="225.45" cy="87.56" r="2.35"/><circle cx="34.39" cy="96.88" r="2.35"/><circle cx="43.71" cy="96.88" r="2.35"/><circle cx="53.03" cy="96.88" r="2.35"/><circle cx="62.35" cy="96.88" r="2.35"/><circle cx="71.67" cy="96.88" r="2.35"/><circle cx="80.99" cy="96.88" r="2.35"/><circle cx="90.31" cy="96.88" r="2.35"/><circle cx="99.63" cy="96.88" r="2.35"/><circle cx="108.95" cy="96.88" r="2.35"/><circle cx="118.27" cy="96.88" r="2.35"/><circle cx="127.59" cy="96.88" r="2.35"/><circle cx="136.91" cy="96.88" r="2.35"/><circle cx="146.23" cy="96.88" r="2.35"/><circle cx="155.55" cy="96.88" r="2.35"/><circle cx="164.87" cy="96.88" r="2.35"/><circle cx="174.19" cy="96.88" r="2.35"/><circle cx="183.51" cy="96.88" r="2.35"/><circle cx="192.83" cy="96.88" r="2.35"/><circle cx="202.15" cy="96.88" r="2.35"/><circle cx="211.47" cy="96.88" r="2.35"/><circle cx="220.79" cy="96.88" r="2.35"/><circle cx="230.11" cy="96.88" r="2.35"/><circle cx="39.05" cy="106.2" r="2.35"/><circle cx="48.37" cy="106.2" r="2.35"/><circle cx="57.69" cy="106.2" r="2.35"/><circle cx="67.01" cy="106.2" r="2.35"/><circle cx="76.33" cy="106.2" r="2.35"/><circle cx="85.65" cy="106.2" r="2.35"/><circle cx="94.97" cy="106.2" r="2.35"/><circle cx="104.29" cy="106.2" r="2.35"/><circle cx="113.61" cy="106.2" r="2.35"/><circle cx="122.93" cy="106.2" r="2.35"/><circle cx="132.25" cy="106.2" r="2.35"/><circle cx="141.57" cy="106.2" r="2.35"/><circle cx="150.89" cy="106.2" r="2.35"/><circle cx="160.21" cy="106.2" r="2.35"/><circle cx="169.53" cy="106.2" r="2.35"/><circle cx="178.85" cy="106.2" r="2.35"/><circle cx="188.17" cy="106.2" r="2.35"/><circle cx="197.49" cy="106.2" r="2.35"/><circle cx="206.81" cy="106.2" r="2.35"/><circle cx="216.13" cy="106.2" r="2.35"/><circle cx="225.45" cy="106.2" r="2.35"/><circle cx="34.39" cy="115.52" r="2.35"/><circle cx="43.71" cy="115.52" r="2.35"/><circle cx="53.03" cy="115.52" r="2.35"/><circle cx="62.35" cy="115.52" r="2.35"/><circle cx="71.67" cy="115.52" r="2.35"/><circle cx="80.99" cy="115.52" r="2.35"/><circle cx="90.31" cy="115.52" r="2.35"/><circle cx="99.63" cy="115.52" r="2.35"/><circle cx="108.95" cy="115.52" r="2.35"/><circle cx="118.27" cy="115.52" r="2.35"/><circle cx="127.59" cy="115.52" r="2.35"/><circle cx="136.91" cy="115.52" r="2.35"/><circle cx="146.23" cy="115.52" r="2.35"/><circle cx="155.55" cy="115.52" r="2.35"/><circle cx="164.87" cy="115.52" r="2.35"/><circle cx="174.19" cy="115.52" r="2.35"/><circle cx="183.51" cy="115.52" r="2.35"/><circle cx="192.83" cy="115.52" r="2.35"/><circle cx="202.15" cy="115.52" r="2.35"/><circle cx="211.47" cy="115.52" r="2.35"/><circle cx="220.79" cy="115.52" r="2.35"/><circle cx="230.11" cy="115.52" r="2.35"/><circle cx="39.05" cy="124.84" r="2.35"/><circle cx="48.37" cy="124.84" r="2.35"/><circle cx="57.69" cy="124.84" r="2.35"/><circle cx="67.01" cy="124.84" r="2.35"/><circle cx="76.33" cy="124.84" r="2.35"/><circle cx="85.65" cy="124.84" r="2.35"/><circle cx="94.97" cy="124.84" r="2.35"/><circle cx="104.29" cy="124.84" r="2.35"/><circle cx="113.61" cy="124.84" r="2.35"/><circle cx="122.93" cy="124.84" r="2.35"/><circle cx="132.25" cy="124.84" r="2.35"/><circle cx="141.57" cy="124.84" r="2.35"/><circle cx="150.89" cy="124.84" r="2.35"/><circle cx="160.21" cy="124.84" r="2.35"/><circle cx="169.53" cy="124.84" r="2.35"/><circle cx="178.85" cy="124.84" r="2.35"/><circle cx="188.17" cy="124.84" r="2.35"/><circle cx="197.49" cy="124.84" r="2.35"/><circle cx="206.81" cy="124.84" r="2.35"/><circle cx="216.13" cy="124.84" r="2.35"/><circle cx="225.45" cy="124.84" r="2.35"/><circle cx="34.39" cy="134.16" r="2.35"/><circle cx="43.71" cy="134.16" r="2.35"/><circle cx="53.03" cy="134.16" r="2.35"/><circle cx="62.35" cy="134.16" r="2.35"/><circle cx="71.67" cy="134.16" r="2.35"/><circle cx="80.99" cy="134.16" r="2.35"/><circle cx="90.31" cy="134.16" r="2.35"/><circle cx="99.63" cy="134.16" r="2.35"/><circle cx="108.95" cy="134.16" r="2.35"/><circle cx="118.27" cy="134.16" r="2.35"/><circle cx="127.59" cy="134.16" r="2.35"/><circle cx="136.91" cy="134.16" r="2.35"/><circle cx="146.23" cy="134.16" r="2.35"/><circle cx="155.55" cy="134.16" r="2.35"/><circle cx="164.87" cy="134.16" r="2.35"/><circle cx="174.19" cy="134.16" r="2.35"/><circle cx="183.51" cy="134.16" r="2.35"/><circle cx="192.83" cy="134.16" r="2.35"/><circle cx="202.15" cy="134.16" r="2.35"/><circle cx="211.47" cy="134.16" r="2.35"/><circle cx="220.79" cy="134.16" r="2.35"/><circle cx="230.11" cy="134.16" r="2.35"/><circle cx="39.05" cy="143.48" r="2.35"/><circle cx="48.37" cy="143.48" r="2.35"/><circle cx="57.69" cy="143.48" r="2.35"/><circle cx="67.01" cy="143.48" r="2.35"/><circle cx="76.33" cy="143.48" r="2.35"/><circle cx="85.65" cy="143.48" r="2.35"/><circle cx="94.97" cy="143.48" r="2.35"/><circle cx="104.29" cy="143.48" r="2.35"/><circle cx="113.61" cy="143.48" r="2.35"/><circle cx="122.93" cy="143.48" r="2.35"/><circle cx="132.25" cy="143.48" r="2.35"/><circle cx="141.57" cy="143.48" r="2.35"/><circle cx="150.89" cy="143.48" r="2.35"/><circle cx="160.21" cy="143.48" r="2.35"/><circle cx="169.53" cy="143.48" r="2.35"/><circle cx="178.85" cy="143.48" r="2.35"/><circle cx="188.17" cy="143.48" r="2.35"/><circle cx="197.49" cy="143.48" r="2.35"/><circle cx="206.81" cy="143.48" r="2.35"/><circle cx="216.13" cy="143.48" r="2.35"/><circle cx="225.45" cy="143.48" r="2.35"/><circle cx="34.39" cy="152.8" r="2.35"/><circle cx="43.71" cy="152.8" r="2.35"/><circle cx="53.03" cy="152.8" r="2.35"/><circle cx="62.35" cy="152.8" r="2.35"/><circle cx="71.67" cy="152.8" r="2.35"/><circle cx="80.99" cy="152.8" r="2.35"/><circle cx="90.31" cy="152.8" r="2.35"/><circle cx="99.63" cy="152.8" r="2.35"/><circle cx="108.95" cy="152.8" r="2.35"/><circle cx="118.27" cy="152.8" r="2.35"/><circle cx="127.59" cy="152.8" r="2.35"/><circle cx="136.91" cy="152.8" r="2.35"/><circle cx="146.23" cy="152.8" r="2.35"/><circle cx="155.55" cy="152.8" r="2.35"/><circle cx="164.87" cy="152.8" r="2.35"/><circle cx="174.19" cy="152.8" r="2.35"/><circle cx="183.51" cy="152.8" r="2.35"/><circle cx="192.83" cy="152.8" r="2.35"/><circle cx="202.15" cy="152.8" r="2.35"/><circle cx="211.47" cy="152.8" r="2.35"/><circle cx="220.79" cy="152.8" r="2.35"/><circle cx="230.11" cy="152.8" r="2.35"/><circle cx="39.05" cy="162.12" r="2.35"/><circle cx="48.37" cy="162.12" r="2.35"/><circle cx="57.69" cy="162.12" r="2.35"/><circle cx="67.01" cy="162.12" r="2.35"/><circle cx="76.33" cy="162.12" r="2.35"/><circle cx="85.65" cy="162.12" r="2.35"/><circle cx="94.97" cy="162.12" r="2.35"/><circle cx="104.29" cy="162.12" r="2.35"/><circle cx="113.61" cy="162.12" r="2.35"/><circle cx="122.93" cy="162.12" r="2.35"/><circle cx="132.25" cy="162.12" r="2.35"/><circle cx="141.57" cy="162.12" r="2.35"/><circle cx="150.89" cy="162.12" r="2.35"/><circle cx="160.21" cy="162.12" r="2.35"/><circle cx="169.53" cy="162.12" r="2.35"/><circle cx="178.85" cy="162.12" r="2.35"/><circle cx="188.17" cy="162.12" r="2.35"/><circle cx="197.49" cy="162.12" r="2.35"/><circle cx="206.81" cy="162.12" r="2.35"/><circle cx="216.13" cy="162.12" r="2.35"/><circle cx="225.45" cy="162.12" r="2.35"/><circle cx="34.39" cy="171.44" r="2.35"/><circle cx="43.71" cy="171.44" r="2.35"/><circle cx="53.03" cy="171.44" r="2.35"/><circle cx="62.35" cy="171.44" r="2.35"/><circle cx="71.67" cy="171.44" r="2.35"/><circle cx="80.99" cy="171.44" r="2.35"/><circle cx="90.31" cy="171.44" r="2.35"/><circle cx="99.63" cy="171.44" r="2.35"/><circle cx="108.95" cy="171.44" r="2.35"/><circle cx="118.27" cy="171.44" r="2.35"/><circle cx="127.59" cy="171.44" r="2.35"/><circle cx="136.91" cy="171.44" r="2.35"/><circle cx="146.23" cy="171.44" r="2.35"/><circle cx="155.55" cy="171.44" r="2.35"/><circle cx="164.87" cy="171.44" r="2.35"/><circle cx="174.19" cy="171.44" r="2.35"/><circle cx="183.51" cy="171.44" r="2.35"/><circle cx="192.83" cy="171.44" r="2.35"/><circle cx="202.15" cy="171.44" r="2.35"/><circle cx="211.47" cy="171.44" r="2.35"/><circle cx="220.79" cy="171.44" r="2.35"/><circle cx="230.11" cy="171.44" r="2.35"/><circle cx="39.05" cy="180.76" r="2.35"/><circle cx="48.37" cy="180.76" r="2.35"/><circle cx="57.69" cy="180.76" r="2.35"/><circle cx="67.01" cy="180.76" r="2.35"/><circle cx="76.33" cy="180.76" r="2.35"/><circle cx="85.65" cy="180.76" r="2.35"/><circle cx="94.97" cy="180.76" r="2.35"/><circle cx="104.29" cy="180.76" r="2.35"/><circle cx="113.61" cy="180.76" r="2.35"/><circle cx="122.93" cy="180.76" r="2.35"/><circle cx="132.25" cy="180.76" r="2.35"/><circle cx="141.57" cy="180.76" r="2.35"/><circle cx="150.89" cy="180.76" r="2.35"/><circle cx="160.21" cy="180.76" r="2.35"/><circle cx="169.53" cy="180.76" r="2.35"/><circle cx="178.85" cy="180.76" r="2.35"/><circle cx="188.17" cy="180.76" r="2.35"/><circle cx="197.49" cy="180.76" r="2.35"/><circle cx="206.81" cy="180.76" r="2.35"/><circle cx="216.13" cy="180.76" r="2.35"/><circle cx="225.45" cy="180.76" r="2.35"/><circle cx="34.39" cy="190.08" r="2.35"/><circle cx="43.71" cy="190.08" r="2.35"/><circle cx="53.03" cy="190.08" r="2.35"/><circle cx="62.35" cy="190.08" r="2.35"/><circle cx="71.67" cy="190.08" r="2.35"/><circle cx="80.99" cy="190.08" r="2.35"/><circle cx="90.31" cy="190.08" r="2.35"/><circle cx="99.63" cy="190.08" r="2.35"/><circle cx="108.95" cy="190.08" r="2.35"/><circle cx="118.27" cy="190.08" r="2.35"/><circle cx="127.59" cy="190.08" r="2.35"/><circle cx="136.91" cy="190.08" r="2.35"/><circle cx="146.23" cy="190.08" r="2.35"/><circle cx="155.55" cy="190.08" r="2.35"/><circle cx="164.87" cy="190.08" r="2.35"/><circle cx="174.19" cy="190.08" r="2.35"/><circle cx="183.51" cy="190.08" r="2.35"/><circle cx="192.83" cy="190.08" r="2.35"/><circle cx="202.15" cy="190.08" r="2.35"/><circle cx="211.47" cy="190.08" r="2.35"/><circle cx="220.79" cy="190.08" r="2.35"/><circle cx="230.11" cy="190.08" r="2.35"/><circle cx="39.05" cy="199.4" r="2.35"/><circle cx="48.37" cy="199.4" r="2.35"/><circle cx="57.69" cy="199.4" r="2.35"/><circle cx="67.01" cy="199.4" r="2.35"/><circle cx="76.33" cy="199.4" r="2.35"/><circle cx="85.65" cy="199.4" r="2.35"/><circle cx="94.97" cy="199.4" r="2.35"/><circle cx="104.29" cy="199.4" r="2.35"/><circle cx="113.61" cy="199.4" r="2.35"/><circle cx="122.93" cy="199.4" r="2.35"/><circle cx="132.25" cy="199.4" r="2.35"/><circle cx="141.57" cy="199.4" r="2.35"/><circle cx="150.89" cy="199.4" r="2.35"/><circle cx="160.21" cy="199.4" r="2.35"/><circle cx="169.53" cy="199.4" r="2.35"/><circle cx="178.85" cy="199.4" r="2.35"/><circle cx="188.17" cy="199.4" r="2.35"/><circle cx="197.49" cy="199.4" r="2.35"/><circle cx="206.81" cy="199.4" r="2.35"/><circle cx="216.13" cy="199.4" r="2.35"/><circle cx="225.45" cy="199.4" r="2.35"/></g><circle cx="104.29" cy="68.92" r="2.13" fill="url(#sp2)"/><circle cx="113.61" cy="68.92" r="2.21" fill="url(#sp3)"/><circle cx="122.93" cy="68.92" r="2.28" fill="url(#sp4)"/><circle cx="132.25" cy="68.92" r="2.31" fill="url(#sp5)"/><circle cx="141.57" cy="68.92" r="2.28" fill="url(#sp4)"/><circle cx="150.89" cy="68.92" r="2.21" fill="url(#sp3)"/><circle cx="160.21" cy="68.92" r="2.13" fill="url(#sp2)"/><circle cx="99.63" cy="78.24" r="2.13" fill="url(#sp2)"/><circle cx="108.95" cy="78.24" r="2.2" fill="url(#sp3)"/><circle cx="118.27" cy="78.24" r="2.27" fill="url(#sp4)"/><circle cx="127.59" cy="78.24" r="2.31" fill="url(#sp5)"/><circle cx="136.91" cy="78.24" r="2.31" fill="url(#sp5)"/><circle cx="146.23" cy="78.24" r="2.27" fill="url(#sp4)"/><circle cx="155.55" cy="78.24" r="2.2" fill="url(#sp3)"/><circle cx="164.87" cy="78.24" r="2.13" fill="url(#sp2)"/><circle cx="76.33" cy="87.56" r="2.12" fill="url(#sp2)"/><circle cx="85.65" cy="87.56" r="2.22" fill="url(#sp3)"/><circle cx="94.97" cy="87.56" r="2.37" fill="url(#sp6)"/><circle cx="104.29" cy="87.56" r="2.55" fill="url(#sp8)"/><circle cx="113.61" cy="87.56" r="2.73" fill="url(#sp11)"/><circle cx="122.93" cy="87.56" r="2.86" fill="url(#sp13)"/><circle cx="132.25" cy="87.56" r="2.91" fill="url(#sp14)"/><circle cx="141.57" cy="87.56" r="2.86" fill="url(#sp13)"/><circle cx="150.89" cy="87.56" r="2.73" fill="url(#sp11)"/><circle cx="160.21" cy="87.56" r="2.55" fill="url(#sp8)"/><circle cx="169.53" cy="87.56" r="2.37" fill="url(#sp6)"/><circle cx="178.85" cy="87.56" r="2.22" fill="url(#sp3)"/><circle cx="188.17" cy="87.56" r="2.12" fill="url(#sp2)"/><circle cx="90.31" cy="96.88" r="2.12" fill="url(#sp2)"/><circle cx="99.63" cy="96.88" r="2.18" fill="url(#sp3)"/><circle cx="108.95" cy="96.88" r="2.25" fill="url(#sp4)"/><circle cx="118.27" cy="96.88" r="2.3" fill="url(#sp5)"/><circle cx="127.59" cy="96.88" r="2.33" fill="url(#sp5)"/><circle cx="136.91" cy="96.88" r="2.33" fill="url(#sp5)"/><circle cx="146.23" cy="96.88" r="2.3" fill="url(#sp5)"/><circle cx="155.55" cy="96.88" r="2.25" fill="url(#sp4)"/><circle cx="164.87" cy="96.88" r="2.18" fill="url(#sp3)"/><circle cx="174.19" cy="96.88" r="2.12" fill="url(#sp2)"/><circle cx="67.01" cy="106.2" r="2.09" fill="url(#sp1)"/><circle cx="76.33" cy="106.2" r="2.19" fill="url(#sp3)"/><circle cx="85.65" cy="106.2" r="2.34" fill="url(#sp5)"/><circle cx="94.97" cy="106.2" r="2.55" fill="url(#sp8)"/><circle cx="104.29" cy="106.2" r="2.8" fill="url(#sp12)"/><circle cx="113.61" cy="106.2" r="3.05" fill="url(#sp16)"/><circle cx="122.93" cy="106.2" r="3.23" fill="url(#sp19)"/><circle cx="132.25" cy="106.2" r="3.3" fill="url(#sp19)"/><circle cx="141.57" cy="106.2" r="3.23" fill="url(#sp19)"/><circle cx="150.89" cy="106.2" r="3.05" fill="url(#sp16)"/><circle cx="160.21" cy="106.2" r="2.8" fill="url(#sp12)"/><circle cx="169.53" cy="106.2" r="2.55" fill="url(#sp8)"/><circle cx="178.85" cy="106.2" r="2.34" fill="url(#sp5)"/><circle cx="188.17" cy="106.2" r="2.19" fill="url(#sp3)"/><circle cx="197.49" cy="106.2" r="2.09" fill="url(#sp1)"/><circle cx="90.31" cy="115.52" r="2.12" fill="url(#sp2)"/><circle cx="99.63" cy="115.52" r="2.18" fill="url(#sp3)"/><circle cx="108.95" cy="115.52" r="2.25" fill="url(#sp4)"/><circle cx="118.27" cy="115.52" r="2.3" fill="url(#sp5)"/><circle cx="127.59" cy="115.52" r="2.33" fill="url(#sp5)"/><circle cx="136.91" cy="115.52" r="2.33" fill="url(#sp5)"/><circle cx="146.23" cy="115.52" r="2.3" fill="url(#sp5)"/><circle cx="155.55" cy="115.52" r="2.25" fill="url(#sp4)"/><circle cx="164.87" cy="115.52" r="2.18" fill="url(#sp3)"/><circle cx="174.19" cy="115.52" r="2.12" fill="url(#sp2)"/><circle cx="76.33" cy="124.84" r="2.12" fill="url(#sp2)"/><circle cx="85.65" cy="124.84" r="2.22" fill="url(#sp3)"/><circle cx="94.97" cy="124.84" r="2.37" fill="url(#sp6)"/><circle cx="104.29" cy="124.84" r="2.55" fill="url(#sp8)"/><circle cx="113.61" cy="124.84" r="2.73" fill="url(#sp11)"/><circle cx="122.93" cy="124.84" r="2.86" fill="url(#sp13)"/><circle cx="132.25" cy="124.84" r="2.91" fill="url(#sp14)"/><circle cx="141.57" cy="124.84" r="2.86" fill="url(#sp13)"/><circle cx="150.89" cy="124.84" r="2.73" fill="url(#sp11)"/><circle cx="160.21" cy="124.84" r="2.55" fill="url(#sp8)"/><circle cx="169.53" cy="124.84" r="2.37" fill="url(#sp6)"/><circle cx="178.85" cy="124.84" r="2.22" fill="url(#sp3)"/><circle cx="188.17" cy="124.84" r="2.12" fill="url(#sp2)"/><circle cx="99.63" cy="134.16" r="2.13" fill="url(#sp2)"/><circle cx="108.95" cy="134.16" r="2.2" fill="url(#sp3)"/><circle cx="118.27" cy="134.16" r="2.27" fill="url(#sp4)"/><circle cx="127.59" cy="134.16" r="2.31" fill="url(#sp5)"/><circle cx="136.91" cy="134.16" r="2.31" fill="url(#sp5)"/><circle cx="146.23" cy="134.16" r="2.27" fill="url(#sp4)"/><circle cx="155.55" cy="134.16" r="2.2" fill="url(#sp3)"/><circle cx="164.87" cy="134.16" r="2.13" fill="url(#sp2)"/><circle cx="104.29" cy="143.48" r="2.13" fill="url(#sp2)"/><circle cx="113.61" cy="143.48" r="2.21" fill="url(#sp3)"/><circle cx="122.93" cy="143.48" r="2.28" fill="url(#sp4)"/><circle cx="132.25" cy="143.48" r="2.31" fill="url(#sp5)"/><circle cx="141.57" cy="143.48" r="2.28" fill="url(#sp4)"/><circle cx="150.89" cy="143.48" r="2.21" fill="url(#sp3)"/><circle cx="160.21" cy="143.48" r="2.13" fill="url(#sp2)"/><path d="M216.81 106.4 L174.81 21.08 L89.49 21.08 L47.49 106.4 L89.49 191.72 L174.81 191.72 Z M179.55 106.4 L155.85 59 L108.45 59 L84.75 106.4 L108.45 153.8 L155.85 153.8 Z" fill="none" stroke="#f41a14" stroke-width="1.6" stroke-dasharray="4.2 1.8"/></g><g clip-path="url(#clipc)"><rect x="37" y="239" width="190.3" height="190.4" fill="#480a6c"/><ellipse cx="132.15" cy="334.2" rx="48" ry="48" fill="url(#glowc)"/><g fill="none" stroke="#4a1272" stroke-width="1.5"><circle cx="122.93" cy="277.83" r="3.45" stroke-opacity="0.55"/><circle cx="132.25" cy="277.83" r="3.45" stroke-opacity="0.56"/><circle cx="141.57" cy="277.83" r="3.45" stroke-opacity="0.55"/><circle cx="99.63" cy="287.15" r="3.45" stroke-opacity="0.55"/><circle cx="108.95" cy="287.15" r="3.45" stroke-opacity="0.6"/><circle cx="118.27" cy="287.15" r="3.45" stroke-opacity="0.66"/><circle cx="127.59" cy="287.15" r="3.45" stroke-opacity="0.69"/><circle cx="136.91" cy="287.15" r="3.45" stroke-opacity="0.69"/><circle cx="146.23" cy="287.15" r="3.45" stroke-opacity="0.66"/><circle cx="155.55" cy="287.15" r="3.45" stroke-opacity="0.6"/><circle cx="164.87" cy="287.15" r="3.45" stroke-opacity="0.55"/><circle cx="94.97" cy="296.47" r="3.45" stroke-opacity="0.6"/><circle cx="104.29" cy="296.47" r="3.45" stroke-opacity="0.69"/><circle cx="113.61" cy="296.47" r="3.45" stroke-opacity="0.79"/><circle cx="122.93" cy="296.47" r="3.45" stroke-opacity="0.86"/><circle cx="132.25" cy="296.47" r="3.45" stroke-opacity="0.88"/><circle cx="141.57" cy="296.47" r="3.45" stroke-opacity="0.86"/><circle cx="150.89" cy="296.47" r="3.45" stroke-opacity="0.79"/><circle cx="160.21" cy="296.47" r="3.45" stroke-opacity="0.69"/><circle cx="169.53" cy="296.47" r="3.45" stroke-opacity="0.6"/><circle cx="90.31" cy="305.79" r="3.45" stroke-opacity="0.63"/><circle cx="99.63" cy="305.79" r="3.45" stroke-opacity="0.76"/><circle cx="108.95" cy="305.79" r="3.45" stroke-opacity="0.91"/><circle cx="118.27" cy="305.79" r="3.45" stroke-opacity="0.95"/><circle cx="127.59" cy="305.79" r="3.45" stroke-opacity="0.95"/><circle cx="136.91" cy="305.79" r="3.45" stroke-opacity="0.95"/><circle cx="146.23" cy="305.79" r="3.45" stroke-opacity="0.95"/><circle cx="155.55" cy="305.79" r="3.45" stroke-opacity="0.91"/><circle cx="164.87" cy="305.79" r="3.45" stroke-opacity="0.76"/><circle cx="174.19" cy="305.79" r="3.45" stroke-opacity="0.63"/><circle cx="85.65" cy="315.11" r="3.45" stroke-opacity="0.63"/><circle cx="94.97" cy="315.11" r="3.45" stroke-opacity="0.79"/><circle cx="104.29" cy="315.11" r="3.45" stroke-opacity="0.95"/><circle cx="113.61" cy="315.11" r="3.45" stroke-opacity="0.95"/><circle cx="122.93" cy="315.11" r="3.45" stroke-opacity="0.95"/><circle cx="132.25" cy="315.11" r="3.45" stroke-opacity="0.95"/><circle cx="141.57" cy="315.11" r="3.45" stroke-opacity="0.95"/><circle cx="150.89" cy="315.11" r="3.45" stroke-opacity="0.95"/><circle cx="160.21" cy="315.11" r="3.45" stroke-opacity="0.95"/><circle cx="169.53" cy="315.11" r="3.45" stroke-opacity="0.79"/><circle cx="178.85" cy="315.11" r="3.45" stroke-opacity="0.63"/><circle cx="80.99" cy="324.43" r="3.45" stroke-opacity="0.6"/><circle cx="90.31" cy="324.43" r="3.45" stroke-opacity="0.76"/><circle cx="99.63" cy="324.43" r="3.45" stroke-opacity="0.95"/><circle cx="108.95" cy="324.43" r="3.45" stroke-opacity="0.95"/><circle cx="118.27" cy="324.43" r="3.45" stroke-opacity="0.95"/><circle cx="127.59" cy="324.43" r="3.45" stroke-opacity="0.95"/><circle cx="136.91" cy="324.43" r="3.45" stroke-opacity="0.95"/><circle cx="146.23" cy="324.43" r="3.45" stroke-opacity="0.95"/><circle cx="155.55" cy="324.43" r="3.45" stroke-opacity="0.95"/><circle cx="164.87" cy="324.43" r="3.45" stroke-opacity="0.95"/><circle cx="174.19" cy="324.43" r="3.45" stroke-opacity="0.76"/><circle cx="183.51" cy="324.43" r="3.45" stroke-opacity="0.6"/><circle cx="76.33" cy="333.75" r="3.45" stroke-opacity="0.56"/><circle cx="85.65" cy="333.75" r="3.45" stroke-opacity="0.69"/><circle cx="94.97" cy="333.75" r="3.45" stroke-opacity="0.88"/><circle cx="104.29" cy="333.75" r="3.45" stroke-opacity="0.95"/><circle cx="113.61" cy="333.75" r="3.45" stroke-opacity="0.95"/><circle cx="122.93" cy="333.75" r="3.45" stroke-opacity="0.95"/><circle cx="132.25" cy="333.75" r="3.45" stroke-opacity="0.95"/><circle cx="141.57" cy="333.75" r="3.45" stroke-opacity="0.95"/><circle cx="150.89" cy="333.75" r="3.45" stroke-opacity="0.95"/><circle cx="160.21" cy="333.75" r="3.45" stroke-opacity="0.95"/><circle cx="169.53" cy="333.75" r="3.45" stroke-opacity="0.88"/><circle cx="178.85" cy="333.75" r="3.45" stroke-opacity="0.69"/><circle cx="188.17" cy="333.75" r="3.45" stroke-opacity="0.56"/><circle cx="80.99" cy="343.07" r="3.45" stroke-opacity="0.6"/><circle cx="90.31" cy="343.07" r="3.45" stroke-opacity="0.76"/><circle cx="99.63" cy="343.07" r="3.45" stroke-opacity="0.95"/><circle cx="108.95" cy="343.07" r="3.45" stroke-opacity="0.95"/><circle cx="118.27" cy="343.07" r="3.45" stroke-opacity="0.95"/><circle cx="127.59" cy="343.07" r="3.45" stroke-opacity="0.95"/><circle cx="136.91" cy="343.07" r="3.45" stroke-opacity="0.95"/><circle cx="146.23" cy="343.07" r="3.45" stroke-opacity="0.95"/><circle cx="155.55" cy="343.07" r="3.45" stroke-opacity="0.95"/><circle cx="164.87" cy="343.07" r="3.45" stroke-opacity="0.95"/><circle cx="174.19" cy="343.07" r="3.45" stroke-opacity="0.76"/><circle cx="183.51" cy="343.07" r="3.45" stroke-opacity="0.6"/><circle cx="85.65" cy="352.39" r="3.45" stroke-opacity="0.63"/><circle cx="94.97" cy="352.39" r="3.45" stroke-opacity="0.79"/><circle cx="104.29" cy="352.39" r="3.45" stroke-opacity="0.95"/><circle cx="113.61" cy="352.39" r="3.45" stroke-opacity="0.95"/><circle cx="122.93" cy="352.39" r="3.45" stroke-opacity="0.95"/><circle cx="132.25" cy="352.39" r="3.45" stroke-opacity="0.95"/><circle cx="141.57" cy="352.39" r="3.45" stroke-opacity="0.95"/><circle cx="150.89" cy="352.39" r="3.45" stroke-opacity="0.95"/><circle cx="160.21" cy="352.39" r="3.45" stroke-opacity="0.95"/><circle cx="169.53" cy="352.39" r="3.45" stroke-opacity="0.79"/><circle cx="178.85" cy="352.39" r="3.45" stroke-opacity="0.63"/><circle cx="90.31" cy="361.71" r="3.45" stroke-opacity="0.63"/><circle cx="99.63" cy="361.71" r="3.45" stroke-opacity="0.76"/><circle cx="108.95" cy="361.71" r="3.45" stroke-opacity="0.91"/><circle cx="118.27" cy="361.71" r="3.45" stroke-opacity="0.95"/><circle cx="127.59" cy="361.71" r="3.45" stroke-opacity="0.95"/><circle cx="136.91" cy="361.71" r="3.45" stroke-opacity="0.95"/><circle cx="146.23" cy="361.71" r="3.45" stroke-opacity="0.95"/><circle cx="155.55" cy="361.71" r="3.45" stroke-opacity="0.91"/><circle cx="164.87" cy="361.71" r="3.45" stroke-opacity="0.76"/><circle cx="174.19" cy="361.71" r="3.45" stroke-opacity="0.63"/><circle cx="94.97" cy="371.03" r="3.45" stroke-opacity="0.6"/><circle cx="104.29" cy="371.03" r="3.45" stroke-opacity="0.69"/><circle cx="113.61" cy="371.03" r="3.45" stroke-opacity="0.79"/><circle cx="122.93" cy="371.03" r="3.45" stroke-opacity="0.86"/><circle cx="132.25" cy="371.03" r="3.45" stroke-opacity="0.88"/><circle cx="141.57" cy="371.03" r="3.45" stroke-opacity="0.86"/><circle cx="150.89" cy="371.03" r="3.45" stroke-opacity="0.79"/><circle cx="160.21" cy="371.03" r="3.45" stroke-opacity="0.69"/><circle cx="169.53" cy="371.03" r="3.45" stroke-opacity="0.6"/><circle cx="99.63" cy="380.35" r="3.45" stroke-opacity="0.55"/><circle cx="108.95" cy="380.35" r="3.45" stroke-opacity="0.6"/><circle cx="118.27" cy="380.35" r="3.45" stroke-opacity="0.66"/><circle cx="127.59" cy="380.35" r="3.45" stroke-opacity="0.69"/><circle cx="136.91" cy="380.35" r="3.45" stroke-opacity="0.69"/><circle cx="146.23" cy="380.35" r="3.45" stroke-opacity="0.66"/><circle cx="155.55" cy="380.35" r="3.45" stroke-opacity="0.6"/><circle cx="164.87" cy="380.35" r="3.45" stroke-opacity="0.55"/><circle cx="122.93" cy="389.67" r="3.45" stroke-opacity="0.55"/><circle cx="132.25" cy="389.67" r="3.45" stroke-opacity="0.56"/><circle cx="141.57" cy="389.67" r="3.45" stroke-opacity="0.55"/></g><g fill="none" stroke="#2a0644" stroke-opacity="0.62" stroke-width="1.2"><circle cx="39.05" cy="240.55" r="2.35"/><circle cx="48.37" cy="240.55" r="2.35"/><circle cx="57.69" cy="240.55" r="2.35"/><circle cx="67.01" cy="240.55" r="2.35"/><circle cx="76.33" cy="240.55" r="2.35"/><circle cx="85.65" cy="240.55" r="2.35"/><circle cx="94.97" cy="240.55" r="2.35"/><circle cx="104.29" cy="240.55" r="2.35"/><circle cx="113.61" cy="240.55" r="2.35"/><circle cx="122.93" cy="240.55" r="2.35"/><circle cx="132.25" cy="240.55" r="2.35"/><circle cx="141.57" cy="240.55" r="2.35"/><circle cx="150.89" cy="240.55" r="2.35"/><circle cx="160.21" cy="240.55" r="2.35"/><circle cx="169.53" cy="240.55" r="2.35"/><circle cx="178.85" cy="240.55" r="2.35"/><circle cx="188.17" cy="240.55" r="2.35"/><circle cx="197.49" cy="240.55" r="2.35"/><circle cx="206.81" cy="240.55" r="2.35"/><circle cx="216.13" cy="240.55" r="2.35"/><circle cx="225.45" cy="240.55" r="2.35"/><circle cx="34.39" cy="249.87" r="2.35"/><circle cx="43.71" cy="249.87" r="2.35"/><circle cx="53.03" cy="249.87" r="2.35"/><circle cx="62.35" cy="249.87" r="2.35"/><circle cx="71.67" cy="249.87" r="2.35"/><circle cx="80.99" cy="249.87" r="2.35"/><circle cx="90.31" cy="249.87" r="2.35"/><circle cx="99.63" cy="249.87" r="2.35"/><circle cx="108.95" cy="249.87" r="2.35"/><circle cx="118.27" cy="249.87" r="2.35"/><circle cx="127.59" cy="249.87" r="2.35"/><circle cx="136.91" cy="249.87" r="2.35"/><circle cx="146.23" cy="249.87" r="2.35"/><circle cx="155.55" cy="249.87" r="2.35"/><circle cx="164.87" cy="249.87" r="2.35"/><circle cx="174.19" cy="249.87" r="2.35"/><circle cx="183.51" cy="249.87" r="2.35"/><circle cx="192.83" cy="249.87" r="2.35"/><circle cx="202.15" cy="249.87" r="2.35"/><circle cx="211.47" cy="249.87" r="2.35"/><circle cx="220.79" cy="249.87" r="2.35"/><circle cx="230.11" cy="249.87" r="2.35"/><circle cx="39.05" cy="259.19" r="2.35"/><circle cx="48.37" cy="259.19" r="2.35"/><circle cx="57.69" cy="259.19" r="2.35"/><circle cx="67.01" cy="259.19" r="2.35"/><circle cx="76.33" cy="259.19" r="2.35"/><circle cx="85.65" cy="259.19" r="2.35"/><circle cx="94.97" cy="259.19" r="2.35"/><circle cx="104.29" cy="259.19" r="2.35"/><circle cx="113.61" cy="259.19" r="2.35"/><circle cx="122.93" cy="259.19" r="2.35"/><circle cx="132.25" cy="259.19" r="2.35"/><circle cx="141.57" cy="259.19" r="2.35"/><circle cx="150.89" cy="259.19" r="2.35"/><circle cx="160.21" cy="259.19" r="2.35"/><circle cx="169.53" cy="259.19" r="2.35"/><circle cx="178.85" cy="259.19" r="2.35"/><circle cx="188.17" cy="259.19" r="2.35"/><circle cx="197.49" cy="259.19" r="2.35"/><circle cx="206.81" cy="259.19" r="2.35"/><circle cx="216.13" cy="259.19" r="2.35"/><circle cx="225.45" cy="259.19" r="2.35"/><circle cx="34.39" cy="268.51" r="2.35"/><circle cx="43.71" cy="268.51" r="2.35"/><circle cx="53.03" cy="268.51" r="2.35"/><circle cx="62.35" cy="268.51" r="2.35"/><circle cx="71.67" cy="268.51" r="2.35"/><circle cx="80.99" cy="268.51" r="2.35"/><circle cx="90.31" cy="268.51" r="2.35"/><circle cx="99.63" cy="268.51" r="2.35"/><circle cx="108.95" cy="268.51" r="2.35"/><circle cx="118.27" cy="268.51" r="2.35"/><circle cx="127.59" cy="268.51" r="2.35"/><circle cx="136.91" cy="268.51" r="2.35"/><circle cx="146.23" cy="268.51" r="2.35"/><circle cx="155.55" cy="268.51" r="2.35"/><circle cx="164.87" cy="268.51" r="2.35"/><circle cx="174.19" cy="268.51" r="2.35"/><circle cx="183.51" cy="268.51" r="2.35"/><circle cx="192.83" cy="268.51" r="2.35"/><circle cx="202.15" cy="268.51" r="2.35"/><circle cx="211.47" cy="268.51" r="2.35"/><circle cx="220.79" cy="268.51" r="2.35"/><circle cx="230.11" cy="268.51" r="2.35"/><circle cx="39.05" cy="277.83" r="2.35"/><circle cx="48.37" cy="277.83" r="2.35"/><circle cx="57.69" cy="277.83" r="2.35"/><circle cx="67.01" cy="277.83" r="2.35"/><circle cx="76.33" cy="277.83" r="2.35"/><circle cx="85.65" cy="277.83" r="2.35"/><circle cx="94.97" cy="277.83" r="2.35"/><circle cx="104.29" cy="277.83" r="2.35"/><circle cx="113.61" cy="277.83" r="2.35"/><circle cx="122.93" cy="277.83" r="2.35"/><circle cx="132.25" cy="277.83" r="2.35"/><circle cx="141.57" cy="277.83" r="2.35"/><circle cx="150.89" cy="277.83" r="2.35"/><circle cx="160.21" cy="277.83" r="2.35"/><circle cx="169.53" cy="277.83" r="2.35"/><circle cx="178.85" cy="277.83" r="2.35"/><circle cx="188.17" cy="277.83" r="2.35"/><circle cx="197.49" cy="277.83" r="2.35"/><circle cx="206.81" cy="277.83" r="2.35"/><circle cx="216.13" cy="277.83" r="2.35"/><circle cx="225.45" cy="277.83" r="2.35"/><circle cx="34.39" cy="287.15" r="2.35"/><circle cx="43.71" cy="287.15" r="2.35"/><circle cx="53.03" cy="287.15" r="2.35"/><circle cx="62.35" cy="287.15" r="2.35"/><circle cx="71.67" cy="287.15" r="2.35"/><circle cx="80.99" cy="287.15" r="2.35"/><circle cx="90.31" cy="287.15" r="2.35"/><circle cx="99.63" cy="287.15" r="2.35"/><circle cx="108.95" cy="287.15" r="2.35"/><circle cx="118.27" cy="287.15" r="2.35"/><circle cx="127.59" cy="287.15" r="2.35"/><circle cx="136.91" cy="287.15" r="2.35"/><circle cx="146.23" cy="287.15" r="2.35"/><circle cx="155.55" cy="287.15" r="2.35"/><circle cx="164.87" cy="287.15" r="2.35"/><circle cx="174.19" cy="287.15" r="2.35"/><circle cx="183.51" cy="287.15" r="2.35"/><circle cx="192.83" cy="287.15" r="2.35"/><circle cx="202.15" cy="287.15" r="2.35"/><circle cx="211.47" cy="287.15" r="2.35"/><circle cx="220.79" cy="287.15" r="2.35"/><circle cx="230.11" cy="287.15" r="2.35"/><circle cx="39.05" cy="296.47" r="2.35"/><circle cx="48.37" cy="296.47" r="2.35"/><circle cx="57.69" cy="296.47" r="2.35"/><circle cx="67.01" cy="296.47" r="2.35"/><circle cx="76.33" cy="296.47" r="2.35"/><circle cx="85.65" cy="296.47" r="2.35"/><circle cx="94.97" cy="296.47" r="2.35"/><circle cx="104.29" cy="296.47" r="2.35"/><circle cx="113.61" cy="296.47" r="2.35"/><circle cx="122.93" cy="296.47" r="2.35"/><circle cx="132.25" cy="296.47" r="2.35"/><circle cx="141.57" cy="296.47" r="2.35"/><circle cx="150.89" cy="296.47" r="2.35"/><circle cx="160.21" cy="296.47" r="2.35"/><circle cx="169.53" cy="296.47" r="2.35"/><circle cx="178.85" cy="296.47" r="2.35"/><circle cx="188.17" cy="296.47" r="2.35"/><circle cx="197.49" cy="296.47" r="2.35"/><circle cx="206.81" cy="296.47" r="2.35"/><circle cx="216.13" cy="296.47" r="2.35"/><circle cx="225.45" cy="296.47" r="2.35"/><circle cx="34.39" cy="305.79" r="2.35"/><circle cx="43.71" cy="305.79" r="2.35"/><circle cx="53.03" cy="305.79" r="2.35"/><circle cx="62.35" cy="305.79" r="2.35"/><circle cx="71.67" cy="305.79" r="2.35"/><circle cx="80.99" cy="305.79" r="2.35"/><circle cx="90.31" cy="305.79" r="2.35"/><circle cx="99.63" cy="305.79" r="2.35"/><circle cx="108.95" cy="305.79" r="2.35"/><circle cx="118.27" cy="305.79" r="2.35"/><circle cx="127.59" cy="305.79" r="2.35"/><circle cx="136.91" cy="305.79" r="2.35"/><circle cx="146.23" cy="305.79" r="2.35"/><circle cx="155.55" cy="305.79" r="2.35"/><circle cx="164.87" cy="305.79" r="2.35"/><circle cx="174.19" cy="305.79" r="2.35"/><circle cx="183.51" cy="305.79" r="2.35"/><circle cx="192.83" cy="305.79" r="2.35"/><circle cx="202.15" cy="305.79" r="2.35"/><circle cx="211.47" cy="305.79" r="2.35"/><circle cx="220.79" cy="305.79" r="2.35"/><circle cx="230.11" cy="305.79" r="2.35"/><circle cx="39.05" cy="315.11" r="2.35"/><circle cx="48.37" cy="315.11" r="2.35"/><circle cx="57.69" cy="315.11" r="2.35"/><circle cx="67.01" cy="315.11" r="2.35"/><circle cx="76.33" cy="315.11" r="2.35"/><circle cx="85.65" cy="315.11" r="2.35"/><circle cx="94.97" cy="315.11" r="2.35"/><circle cx="104.29" cy="315.11" r="2.35"/><circle cx="113.61" cy="315.11" r="2.35"/><circle cx="122.93" cy="315.11" r="2.35"/><circle cx="132.25" cy="315.11" r="2.35"/><circle cx="141.57" cy="315.11" r="2.35"/><circle cx="150.89" cy="315.11" r="2.35"/><circle cx="160.21" cy="315.11" r="2.35"/><circle cx="169.53" cy="315.11" r="2.35"/><circle cx="178.85" cy="315.11" r="2.35"/><circle cx="188.17" cy="315.11" r="2.35"/><circle cx="197.49" cy="315.11" r="2.35"/><circle cx="206.81" cy="315.11" r="2.35"/><circle cx="216.13" cy="315.11" r="2.35"/><circle cx="225.45" cy="315.11" r="2.35"/><circle cx="34.39" cy="324.43" r="2.35"/><circle cx="43.71" cy="324.43" r="2.35"/><circle cx="53.03" cy="324.43" r="2.35"/><circle cx="62.35" cy="324.43" r="2.35"/><circle cx="71.67" cy="324.43" r="2.35"/><circle cx="80.99" cy="324.43" r="2.35"/><circle cx="90.31" cy="324.43" r="2.35"/><circle cx="99.63" cy="324.43" r="2.35"/><circle cx="108.95" cy="324.43" r="2.35"/><circle cx="118.27" cy="324.43" r="2.35"/><circle cx="127.59" cy="324.43" r="2.35"/><circle cx="136.91" cy="324.43" r="2.35"/><circle cx="146.23" cy="324.43" r="2.35"/><circle cx="155.55" cy="324.43" r="2.35"/><circle cx="164.87" cy="324.43" r="2.35"/><circle cx="174.19" cy="324.43" r="2.35"/><circle cx="183.51" cy="324.43" r="2.35"/><circle cx="192.83" cy="324.43" r="2.35"/><circle cx="202.15" cy="324.43" r="2.35"/><circle cx="211.47" cy="324.43" r="2.35"/><circle cx="220.79" cy="324.43" r="2.35"/><circle cx="230.11" cy="324.43" r="2.35"/><circle cx="39.05" cy="333.75" r="2.35"/><circle cx="48.37" cy="333.75" r="2.35"/><circle cx="57.69" cy="333.75" r="2.35"/><circle cx="67.01" cy="333.75" r="2.35"/><circle cx="76.33" cy="333.75" r="2.35"/><circle cx="85.65" cy="333.75" r="2.35"/><circle cx="94.97" cy="333.75" r="2.35"/><circle cx="104.29" cy="333.75" r="2.35"/><circle cx="113.61" cy="333.75" r="2.35"/><circle cx="122.93" cy="333.75" r="2.35"/><circle cx="132.25" cy="333.75" r="2.35"/><circle cx="141.57" cy="333.75" r="2.35"/><circle cx="150.89" cy="333.75" r="2.35"/><circle cx="160.21" cy="333.75" r="2.35"/><circle cx="169.53" cy="333.75" r="2.35"/><circle cx="178.85" cy="333.75" r="2.35"/><circle cx="188.17" cy="333.75" r="2.35"/><circle cx="197.49" cy="333.75" r="2.35"/><circle cx="206.81" cy="333.75" r="2.35"/><circle cx="216.13" cy="333.75" r="2.35"/><circle cx="225.45" cy="333.75" r="2.35"/><circle cx="34.39" cy="343.07" r="2.35"/><circle cx="43.71" cy="343.07" r="2.35"/><circle cx="53.03" cy="343.07" r="2.35"/><circle cx="62.35" cy="343.07" r="2.35"/><circle cx="71.67" cy="343.07" r="2.35"/><circle cx="80.99" cy="343.07" r="2.35"/><circle cx="90.31" cy="343.07" r="2.35"/><circle cx="99.63" cy="343.07" r="2.35"/><circle cx="108.95" cy="343.07" r="2.35"/><circle cx="118.27" cy="343.07" r="2.35"/><circle cx="127.59" cy="343.07" r="2.35"/><circle cx="136.91" cy="343.07" r="2.35"/><circle cx="146.23" cy="343.07" r="2.35"/><circle cx="155.55" cy="343.07" r="2.35"/><circle cx="164.87" cy="343.07" r="2.35"/><circle cx="174.19" cy="343.07" r="2.35"/><circle cx="183.51" cy="343.07" r="2.35"/><circle cx="192.83" cy="343.07" r="2.35"/><circle cx="202.15" cy="343.07" r="2.35"/><circle cx="211.47" cy="343.07" r="2.35"/><circle cx="220.79" cy="343.07" r="2.35"/><circle cx="230.11" cy="343.07" r="2.35"/><circle cx="39.05" cy="352.39" r="2.35"/><circle cx="48.37" cy="352.39" r="2.35"/><circle cx="57.69" cy="352.39" r="2.35"/><circle cx="67.01" cy="352.39" r="2.35"/><circle cx="76.33" cy="352.39" r="2.35"/><circle cx="85.65" cy="352.39" r="2.35"/><circle cx="94.97" cy="352.39" r="2.35"/><circle cx="104.29" cy="352.39" r="2.35"/><circle cx="113.61" cy="352.39" r="2.35"/><circle cx="122.93" cy="352.39" r="2.35"/><circle cx="132.25" cy="352.39" r="2.35"/><circle cx="141.57" cy="352.39" r="2.35"/><circle cx="150.89" cy="352.39" r="2.35"/><circle cx="160.21" cy="352.39" r="2.35"/><circle cx="169.53" cy="352.39" r="2.35"/><circle cx="178.85" cy="352.39" r="2.35"/><circle cx="188.17" cy="352.39" r="2.35"/><circle cx="197.49" cy="352.39" r="2.35"/><circle cx="206.81" cy="352.39" r="2.35"/><circle cx="216.13" cy="352.39" r="2.35"/><circle cx="225.45" cy="352.39" r="2.35"/><circle cx="34.39" cy="361.71" r="2.35"/><circle cx="43.71" cy="361.71" r="2.35"/><circle cx="53.03" cy="361.71" r="2.35"/><circle cx="62.35" cy="361.71" r="2.35"/><circle cx="71.67" cy="361.71" r="2.35"/><circle cx="80.99" cy="361.71" r="2.35"/><circle cx="90.31" cy="361.71" r="2.35"/><circle cx="99.63" cy="361.71" r="2.35"/><circle cx="108.95" cy="361.71" r="2.35"/><circle cx="118.27" cy="361.71" r="2.35"/><circle cx="127.59" cy="361.71" r="2.35"/><circle cx="136.91" cy="361.71" r="2.35"/><circle cx="146.23" cy="361.71" r="2.35"/><circle cx="155.55" cy="361.71" r="2.35"/><circle cx="164.87" cy="361.71" r="2.35"/><circle cx="174.19" cy="361.71" r="2.35"/><circle cx="183.51" cy="361.71" r="2.35"/><circle cx="192.83" cy="361.71" r="2.35"/><circle cx="202.15" cy="361.71" r="2.35"/><circle cx="211.47" cy="361.71" r="2.35"/><circle cx="220.79" cy="361.71" r="2.35"/><circle cx="230.11" cy="361.71" r="2.35"/><circle cx="39.05" cy="371.03" r="2.35"/><circle cx="48.37" cy="371.03" r="2.35"/><circle cx="57.69" cy="371.03" r="2.35"/><circle cx="67.01" cy="371.03" r="2.35"/><circle cx="76.33" cy="371.03" r="2.35"/><circle cx="85.65" cy="371.03" r="2.35"/><circle cx="94.97" cy="371.03" r="2.35"/><circle cx="104.29" cy="371.03" r="2.35"/><circle cx="113.61" cy="371.03" r="2.35"/><circle cx="122.93" cy="371.03" r="2.35"/><circle cx="132.25" cy="371.03" r="2.35"/><circle cx="141.57" cy="371.03" r="2.35"/><circle cx="150.89" cy="371.03" r="2.35"/><circle cx="160.21" cy="371.03" r="2.35"/><circle cx="169.53" cy="371.03" r="2.35"/><circle cx="178.85" cy="371.03" r="2.35"/><circle cx="188.17" cy="371.03" r="2.35"/><circle cx="197.49" cy="371.03" r="2.35"/><circle cx="206.81" cy="371.03" r="2.35"/><circle cx="216.13" cy="371.03" r="2.35"/><circle cx="225.45" cy="371.03" r="2.35"/><circle cx="34.39" cy="380.35" r="2.35"/><circle cx="43.71" cy="380.35" r="2.35"/><circle cx="53.03" cy="380.35" r="2.35"/><circle cx="62.35" cy="380.35" r="2.35"/><circle cx="71.67" cy="380.35" r="2.35"/><circle cx="80.99" cy="380.35" r="2.35"/><circle cx="90.31" cy="380.35" r="2.35"/><circle cx="99.63" cy="380.35" r="2.35"/><circle cx="108.95" cy="380.35" r="2.35"/><circle cx="118.27" cy="380.35" r="2.35"/><circle cx="127.59" cy="380.35" r="2.35"/><circle cx="136.91" cy="380.35" r="2.35"/><circle cx="146.23" cy="380.35" r="2.35"/><circle cx="155.55" cy="380.35" r="2.35"/><circle cx="164.87" cy="380.35" r="2.35"/><circle cx="174.19" cy="380.35" r="2.35"/><circle cx="183.51" cy="380.35" r="2.35"/><circle cx="192.83" cy="380.35" r="2.35"/><circle cx="202.15" cy="380.35" r="2.35"/><circle cx="211.47" cy="380.35" r="2.35"/><circle cx="220.79" cy="380.35" r="2.35"/><circle cx="230.11" cy="380.35" r="2.35"/><circle cx="39.05" cy="389.67" r="2.35"/><circle cx="48.37" cy="389.67" r="2.35"/><circle cx="57.69" cy="389.67" r="2.35"/><circle cx="67.01" cy="389.67" r="2.35"/><circle cx="76.33" cy="389.67" r="2.35"/><circle cx="85.65" cy="389.67" r="2.35"/><circle cx="94.97" cy="389.67" r="2.35"/><circle cx="104.29" cy="389.67" r="2.35"/><circle cx="113.61" cy="389.67" r="2.35"/><circle cx="122.93" cy="389.67" r="2.35"/><circle cx="132.25" cy="389.67" r="2.35"/><circle cx="141.57" cy="389.67" r="2.35"/><circle cx="150.89" cy="389.67" r="2.35"/><circle cx="160.21" cy="389.67" r="2.35"/><circle cx="169.53" cy="389.67" r="2.35"/><circle cx="178.85" cy="389.67" r="2.35"/><circle cx="188.17" cy="389.67" r="2.35"/><circle cx="197.49" cy="389.67" r="2.35"/><circle cx="206.81" cy="389.67" r="2.35"/><circle cx="216.13" cy="389.67" r="2.35"/><circle cx="225.45" cy="389.67" r="2.35"/><circle cx="34.39" cy="398.99" r="2.35"/><circle cx="43.71" cy="398.99" r="2.35"/><circle cx="53.03" cy="398.99" r="2.35"/><circle cx="62.35" cy="398.99" r="2.35"/><circle cx="71.67" cy="398.99" r="2.35"/><circle cx="80.99" cy="398.99" r="2.35"/><circle cx="90.31" cy="398.99" r="2.35"/><circle cx="99.63" cy="398.99" r="2.35"/><circle cx="108.95" cy="398.99" r="2.35"/><circle cx="118.27" cy="398.99" r="2.35"/><circle cx="127.59" cy="398.99" r="2.35"/><circle cx="136.91" cy="398.99" r="2.35"/><circle cx="146.23" cy="398.99" r="2.35"/><circle cx="155.55" cy="398.99" r="2.35"/><circle cx="164.87" cy="398.99" r="2.35"/><circle cx="174.19" cy="398.99" r="2.35"/><circle cx="183.51" cy="398.99" r="2.35"/><circle cx="192.83" cy="398.99" r="2.35"/><circle cx="202.15" cy="398.99" r="2.35"/><circle cx="211.47" cy="398.99" r="2.35"/><circle cx="220.79" cy="398.99" r="2.35"/><circle cx="230.11" cy="398.99" r="2.35"/><circle cx="39.05" cy="408.31" r="2.35"/><circle cx="48.37" cy="408.31" r="2.35"/><circle cx="57.69" cy="408.31" r="2.35"/><circle cx="67.01" cy="408.31" r="2.35"/><circle cx="76.33" cy="408.31" r="2.35"/><circle cx="85.65" cy="408.31" r="2.35"/><circle cx="94.97" cy="408.31" r="2.35"/><circle cx="104.29" cy="408.31" r="2.35"/><circle cx="113.61" cy="408.31" r="2.35"/><circle cx="122.93" cy="408.31" r="2.35"/><circle cx="132.25" cy="408.31" r="2.35"/><circle cx="141.57" cy="408.31" r="2.35"/><circle cx="150.89" cy="408.31" r="2.35"/><circle cx="160.21" cy="408.31" r="2.35"/><circle cx="169.53" cy="408.31" r="2.35"/><circle cx="178.85" cy="408.31" r="2.35"/><circle cx="188.17" cy="408.31" r="2.35"/><circle cx="197.49" cy="408.31" r="2.35"/><circle cx="206.81" cy="408.31" r="2.35"/><circle cx="216.13" cy="408.31" r="2.35"/><circle cx="225.45" cy="408.31" r="2.35"/><circle cx="34.39" cy="417.63" r="2.35"/><circle cx="43.71" cy="417.63" r="2.35"/><circle cx="53.03" cy="417.63" r="2.35"/><circle cx="62.35" cy="417.63" r="2.35"/><circle cx="71.67" cy="417.63" r="2.35"/><circle cx="80.99" cy="417.63" r="2.35"/><circle cx="90.31" cy="417.63" r="2.35"/><circle cx="99.63" cy="417.63" r="2.35"/><circle cx="108.95" cy="417.63" r="2.35"/><circle cx="118.27" cy="417.63" r="2.35"/><circle cx="127.59" cy="417.63" r="2.35"/><circle cx="136.91" cy="417.63" r="2.35"/><circle cx="146.23" cy="417.63" r="2.35"/><circle cx="155.55" cy="417.63" r="2.35"/><circle cx="164.87" cy="417.63" r="2.35"/><circle cx="174.19" cy="417.63" r="2.35"/><circle cx="183.51" cy="417.63" r="2.35"/><circle cx="192.83" cy="417.63" r="2.35"/><circle cx="202.15" cy="417.63" r="2.35"/><circle cx="211.47" cy="417.63" r="2.35"/><circle cx="220.79" cy="417.63" r="2.35"/><circle cx="230.11" cy="417.63" r="2.35"/><circle cx="39.05" cy="426.95" r="2.35"/><circle cx="48.37" cy="426.95" r="2.35"/><circle cx="57.69" cy="426.95" r="2.35"/><circle cx="67.01" cy="426.95" r="2.35"/><circle cx="76.33" cy="426.95" r="2.35"/><circle cx="85.65" cy="426.95" r="2.35"/><circle cx="94.97" cy="426.95" r="2.35"/><circle cx="104.29" cy="426.95" r="2.35"/><circle cx="113.61" cy="426.95" r="2.35"/><circle cx="122.93" cy="426.95" r="2.35"/><circle cx="132.25" cy="426.95" r="2.35"/><circle cx="141.57" cy="426.95" r="2.35"/><circle cx="150.89" cy="426.95" r="2.35"/><circle cx="160.21" cy="426.95" r="2.35"/><circle cx="169.53" cy="426.95" r="2.35"/><circle cx="178.85" cy="426.95" r="2.35"/><circle cx="188.17" cy="426.95" r="2.35"/><circle cx="197.49" cy="426.95" r="2.35"/><circle cx="206.81" cy="426.95" r="2.35"/><circle cx="216.13" cy="426.95" r="2.35"/><circle cx="225.45" cy="426.95" r="2.35"/></g><circle cx="127.59" cy="268.51" r="2.06" fill="url(#sp1)"/><circle cx="136.91" cy="268.51" r="2.06" fill="url(#sp1)"/><circle cx="104.29" cy="277.83" r="2.08" fill="url(#sp2)"/><circle cx="113.61" cy="277.83" r="2.1" fill="url(#sp2)"/><circle cx="122.93" cy="277.83" r="2.12" fill="url(#sp2)"/><circle cx="132.25" cy="277.83" r="2.13" fill="url(#sp3)"/><circle cx="141.57" cy="277.83" r="2.12" fill="url(#sp2)"/><circle cx="150.89" cy="277.83" r="2.1" fill="url(#sp2)"/><circle cx="160.21" cy="277.83" r="2.08" fill="url(#sp2)"/><circle cx="90.31" cy="287.15" r="2.08" fill="url(#sp2)"/><circle cx="99.63" cy="287.15" r="2.12" fill="url(#sp2)"/><circle cx="108.95" cy="287.15" r="2.17" fill="url(#sp3)"/><circle cx="118.27" cy="287.15" r="2.21" fill="url(#sp4)"/><circle cx="127.59" cy="287.15" r="2.24" fill="url(#sp5)"/><circle cx="136.91" cy="287.15" r="2.24" fill="url(#sp5)"/><circle cx="146.23" cy="287.15" r="2.21" fill="url(#sp4)"/><circle cx="155.55" cy="287.15" r="2.17" fill="url(#sp3)"/><circle cx="164.87" cy="287.15" r="2.12" fill="url(#sp2)"/><circle cx="174.19" cy="287.15" r="2.08" fill="url(#sp2)"/><circle cx="85.65" cy="296.47" r="2.1" fill="url(#sp2)"/><circle cx="94.97" cy="296.47" r="2.16" fill="url(#sp3)"/><circle cx="104.29" cy="296.47" r="2.24" fill="url(#sp5)"/><circle cx="113.61" cy="296.47" r="2.32" fill="url(#sp6)"/><circle cx="122.93" cy="296.47" r="2.38" fill="url(#sp8)"/><circle cx="132.25" cy="296.47" r="2.4" fill="url(#sp8)"/><circle cx="141.57" cy="296.47" r="2.38" fill="url(#sp8)"/><circle cx="150.89" cy="296.47" r="2.32" fill="url(#sp6)"/><circle cx="160.21" cy="296.47" r="2.24" fill="url(#sp5)"/><circle cx="169.53" cy="296.47" r="2.16" fill="url(#sp3)"/><circle cx="178.85" cy="296.47" r="2.1" fill="url(#sp2)"/><circle cx="80.99" cy="305.79" r="2.11" fill="url(#sp2)"/><circle cx="90.31" cy="305.79" r="2.19" fill="url(#sp4)"/><circle cx="99.63" cy="305.79" r="2.3" fill="url(#sp6)"/><circle cx="108.95" cy="305.79" r="2.42" fill="url(#sp8)"/><circle cx="118.27" cy="305.79" r="2.53" fill="url(#sp11)"/><circle cx="127.59" cy="305.79" r="2.59" fill="url(#sp12)"/><circle cx="136.91" cy="305.79" r="2.59" fill="url(#sp12)"/><circle cx="146.23" cy="305.79" r="2.53" fill="url(#sp11)"/><circle cx="155.55" cy="305.79" r="2.42" fill="url(#sp8)"/><circle cx="164.87" cy="305.79" r="2.3" fill="url(#sp6)"/><circle cx="174.19" cy="305.79" r="2.19" fill="url(#sp4)"/><circle cx="183.51" cy="305.79" r="2.11" fill="url(#sp2)"/><circle cx="76.33" cy="315.11" r="2.1" fill="url(#sp2)"/><circle cx="85.65" cy="315.11" r="2.19" fill="url(#sp4)"/><circle cx="94.97" cy="315.11" r="2.32" fill="url(#sp6)"/><circle cx="104.29" cy="315.11" r="2.48" fill="url(#sp10)"/><circle cx="113.61" cy="315.11" r="2.64" fill="url(#sp13)"/><circle cx="122.93" cy="315.11" r="2.75" fill="url(#sp15)"/><circle cx="132.25" cy="315.11" r="2.8" fill="url(#sp16)"/><circle cx="141.57" cy="315.11" r="2.75" fill="url(#sp15)"/><circle cx="150.89" cy="315.11" r="2.64" fill="url(#sp13)"/><circle cx="160.21" cy="315.11" r="2.48" fill="url(#sp10)"/><circle cx="169.53" cy="315.11" r="2.32" fill="url(#sp6)"/><circle cx="178.85" cy="315.11" r="2.19" fill="url(#sp4)"/><circle cx="188.17" cy="315.11" r="2.1" fill="url(#sp2)"/><circle cx="71.67" cy="324.43" r="2.09" fill="url(#sp2)"/><circle cx="80.99" cy="324.43" r="2.17" fill="url(#sp3)"/><circle cx="90.31" cy="324.43" r="2.3" fill="url(#sp6)"/><circle cx="99.63" cy="324.43" r="2.47" fill="url(#sp9)"/><circle cx="108.95" cy="324.43" r="2.66" fill="url(#sp13)"/><circle cx="118.27" cy="324.43" r="2.83" fill="url(#sp17)"/><circle cx="127.59" cy="324.43" r="2.93" fill="url(#sp19)"/><circle cx="136.91" cy="324.43" r="2.93" fill="url(#sp19)"/><circle cx="146.23" cy="324.43" r="2.83" fill="url(#sp17)"/><circle cx="155.55" cy="324.43" r="2.66" fill="url(#sp13)"/><circle cx="164.87" cy="324.43" r="2.47" fill="url(#sp9)"/><circle cx="174.19" cy="324.43" r="2.3" fill="url(#sp6)"/><circle cx="183.51" cy="324.43" r="2.17" fill="url(#sp3)"/><circle cx="192.83" cy="324.43" r="2.09" fill="url(#sp2)"/><circle cx="67.01" cy="333.75" r="2.06" fill="url(#sp1)"/><circle cx="76.33" cy="333.75" r="2.13" fill="url(#sp3)"/><circle cx="85.65" cy="333.75" r="2.24" fill="url(#sp5)"/><circle cx="94.97" cy="333.75" r="2.4" fill="url(#sp8)"/><circle cx="104.29" cy="333.75" r="2.6" fill="url(#sp12)"/><circle cx="113.61" cy="333.75" r="2.8" fill="url(#sp16)"/><circle cx="122.93" cy="333.75" r="2.94" fill="url(#sp19)"/><circle cx="132.25" cy="333.75" r="3" fill="url(#sp19)"/><circle cx="141.57" cy="333.75" r="2.94" fill="url(#sp19)"/><circle cx="150.89" cy="333.75" r="2.8" fill="url(#sp16)"/><circle cx="160.21" cy="333.75" r="2.6" fill="url(#sp12)"/><circle cx="169.53" cy="333.75" r="2.4" fill="url(#sp8)"/><circle cx="178.85" cy="333.75" r="2.24" fill="url(#sp5)"/><circle cx="188.17" cy="333.75" r="2.13" fill="url(#sp3)"/><circle cx="197.49" cy="333.75" r="2.06" fill="url(#sp1)"/><circle cx="71.67" cy="343.07" r="2.09" fill="url(#sp2)"/><circle cx="80.99" cy="343.07" r="2.17" fill="url(#sp3)"/><circle cx="90.31" cy="343.07" r="2.3" fill="url(#sp6)"/><circle cx="99.63" cy="343.07" r="2.47" fill="url(#sp9)"/><circle cx="108.95" cy="343.07" r="2.66" fill="url(#sp13)"/><circle cx="118.27" cy="343.07" r="2.83" fill="url(#sp17)"/><circle cx="127.59" cy="343.07" r="2.93" fill="url(#sp19)"/><circle cx="136.91" cy="343.07" r="2.93" fill="url(#sp19)"/><circle cx="146.23" cy="343.07" r="2.83" fill="url(#sp17)"/><circle cx="155.55" cy="343.07" r="2.66" fill="url(#sp13)"/><circle cx="164.87" cy="343.07" r="2.47" fill="url(#sp9)"/><circle cx="174.19" cy="343.07" r="2.3" fill="url(#sp6)"/><circle cx="183.51" cy="343.07" r="2.17" fill="url(#sp3)"/><circle cx="192.83" cy="343.07" r="2.09" fill="url(#sp2)"/><circle cx="76.33" cy="352.39" r="2.1" fill="url(#sp2)"/><circle cx="85.65" cy="352.39" r="2.19" fill="url(#sp4)"/><circle cx="94.97" cy="352.39" r="2.32" fill="url(#sp6)"/><circle cx="104.29" cy="352.39" r="2.48" fill="url(#sp10)"/><circle cx="113.61" cy="352.39" r="2.64" fill="url(#sp13)"/><circle cx="122.93" cy="352.39" r="2.75" fill="url(#sp15)"/><circle cx="132.25" cy="352.39" r="2.8" fill="url(#sp16)"/><circle cx="141.57" cy="352.39" r="2.75" fill="url(#sp15)"/><circle cx="150.89" cy="352.39" r="2.64" fill="url(#sp13)"/><circle cx="160.21" cy="352.39" r="2.48" fill="url(#sp10)"/><circle cx="169.53" cy="352.39" r="2.32" fill="url(#sp6)"/><circle cx="178.85" cy="352.39" r="2.19" fill="url(#sp4)"/><circle cx="188.17" cy="352.39" r="2.1" fill="url(#sp2)"/><circle cx="80.99" cy="361.71" r="2.11" fill="url(#sp2)"/><circle cx="90.31" cy="361.71" r="2.19" fill="url(#sp4)"/><circle cx="99.63" cy="361.71" r="2.3" fill="url(#sp6)"/><circle cx="108.95" cy="361.71" r="2.42" fill="url(#sp8)"/><circle cx="118.27" cy="361.71" r="2.53" fill="url(#sp11)"/><circle cx="127.59" cy="361.71" r="2.59" fill="url(#sp12)"/><circle cx="136.91" cy="361.71" r="2.59" fill="url(#sp12)"/><circle cx="146.23" cy="361.71" r="2.53" fill="url(#sp11)"/><circle cx="155.55" cy="361.71" r="2.42" fill="url(#sp8)"/><circle cx="164.87" cy="361.71" r="2.3" fill="url(#sp6)"/><circle cx="174.19" cy="361.71" r="2.19" fill="url(#sp4)"/><circle cx="183.51" cy="361.71" r="2.11" fill="url(#sp2)"/><circle cx="85.65" cy="371.03" r="2.1" fill="url(#sp2)"/><circle cx="94.97" cy="371.03" r="2.16" fill="url(#sp3)"/><circle cx="104.29" cy="371.03" r="2.24" fill="url(#sp5)"/><circle cx="113.61" cy="371.03" r="2.32" fill="url(#sp6)"/><circle cx="122.93" cy="371.03" r="2.38" fill="url(#sp8)"/><circle cx="132.25" cy="371.03" r="2.4" fill="url(#sp8)"/><circle cx="141.57" cy="371.03" r="2.38" fill="url(#sp8)"/><circle cx="150.89" cy="371.03" r="2.32" fill="url(#sp6)"/><circle cx="160.21" cy="371.03" r="2.24" fill="url(#sp5)"/><circle cx="169.53" cy="371.03" r="2.16" fill="url(#sp3)"/><circle cx="178.85" cy="371.03" r="2.1" fill="url(#sp2)"/><circle cx="90.31" cy="380.35" r="2.08" fill="url(#sp2)"/><circle cx="99.63" cy="380.35" r="2.12" fill="url(#sp2)"/><circle cx="108.95" cy="380.35" r="2.17" fill="url(#sp3)"/><circle cx="118.27" cy="380.35" r="2.21" fill="url(#sp4)"/><circle cx="127.59" cy="380.35" r="2.24" fill="url(#sp5)"/><circle cx="136.91" cy="380.35" r="2.24" fill="url(#sp5)"/><circle cx="146.23" cy="380.35" r="2.21" fill="url(#sp4)"/><circle cx="155.55" cy="380.35" r="2.17" fill="url(#sp3)"/><circle cx="164.87" cy="380.35" r="2.12" fill="url(#sp2)"/><circle cx="174.19" cy="380.35" r="2.08" fill="url(#sp2)"/><circle cx="104.29" cy="389.67" r="2.08" fill="url(#sp2)"/><circle cx="113.61" cy="389.67" r="2.1" fill="url(#sp2)"/><circle cx="122.93" cy="389.67" r="2.12" fill="url(#sp2)"/><circle cx="132.25" cy="389.67" r="2.13" fill="url(#sp3)"/><circle cx="141.57" cy="389.67" r="2.12" fill="url(#sp2)"/><circle cx="150.89" cy="389.67" r="2.1" fill="url(#sp2)"/><circle cx="160.21" cy="389.67" r="2.08" fill="url(#sp2)"/><circle cx="127.59" cy="398.99" r="2.06" fill="url(#sp1)"/><circle cx="136.91" cy="398.99" r="2.06" fill="url(#sp1)"/><path d="M216.81 333.95 L174.81 248.63 L89.49 248.63 L47.49 333.95 L89.49 419.27 L174.81 419.27 Z M179.55 333.95 L155.85 286.55 L108.45 286.55 L84.75 333.95 L108.45 381.35 L155.85 381.35 Z" fill="none" stroke="#f41a14" stroke-width="1.6" stroke-dasharray="4.2 1.8"/></g><g clip-path="url(#clipb)"><rect x="310.2" y="11.5" width="190.2" height="190.1" fill="#000080"/><circle cx="405.2" cy="106.3" r="95" fill="url(#bgb)"/><g filter="url(#fb3)" fill="none" stroke-linecap="round"><path d="M354.64 124.7 A53.8 53.8 0 0 0 447.59 139.42" stroke="#002cff" stroke-width="6.5"/><path d="M362.81 139.42 A53.8 53.8 0 0 0 385.05 156.18" stroke="#0074ff" stroke-width="6"/><path d="M425.35 156.18 A53.8 53.8 0 0 0 445.18 142.3" stroke="#0074ff" stroke-width="6"/><path d="M392.18 54.1 A53.8 53.8 0 0 0 360.6 76.22" stroke="#002cff" stroke-width="6.5"/><path d="M449.8 76.22 A53.8 53.8 0 0 0 418.22 54.1" stroke="#002cff" stroke-width="6.5"/><path d="M389.09 41.68 A66.6 66.6 0 0 0 358.94 58.39" stroke="#0088ff" stroke-width="6"/><path d="M451.46 58.39 A66.6 66.6 0 0 0 421.31 41.68" stroke="#0088ff" stroke-width="6"/><path d="M357.29 152.56 A66.6 66.6 0 0 0 386.84 170.32" stroke="#0088ff" stroke-width="6"/><path d="M423.56 170.32 A66.6 66.6 0 0 0 451.46 154.21" stroke="#0088ff" stroke-width="6"/></g><g filter="url(#fb2)" fill="none" stroke-linecap="round"><path d="M382.42 43.72 A66.6 66.6 0 0 0 364.2 53.82" stroke="#00d0ff" stroke-width="3"/><path d="M446.2 53.82 A66.6 66.6 0 0 0 427.98 43.72" stroke="#00d0ff" stroke-width="3"/><path d="M362.39 157.32 A66.6 66.6 0 0 0 380.25 168.05" stroke="#00d0ff" stroke-width="3"/><path d="M430.15 168.05 A66.6 66.6 0 0 0 446.2 158.78" stroke="#00d0ff" stroke-width="3"/><path d="M365.22 142.3 A53.8 53.8 0 0 0 379.94 153.8" stroke="#0088ff" stroke-width="3"/><path d="M430.46 153.8 A53.8 53.8 0 0 0 445.18 142.3" stroke="#0088ff" stroke-width="3"/><path d="M385.05 56.42 A53.8 53.8 0 0 0 365.22 70.3" stroke="#0088ff" stroke-width="3"/><path d="M445.18 70.3 A53.8 53.8 0 0 0 425.35 56.42" stroke="#0088ff" stroke-width="3"/></g><ellipse cx="405.2" cy="84.3" rx="16.34" ry="10.64" fill="url(#bl1)"/><ellipse cx="405.2" cy="128.3" rx="16.34" ry="10.64" fill="url(#bl2)"/><use href="#fhblob" transform="translate(405.2 106.3) scale(1)"/><g fill="none" stroke="#197a22" stroke-width="1.25" stroke-dasharray="2 1"><circle cx="405.2" cy="106.3" r="15.2"/><circle cx="405.2" cy="106.3" r="31.6"/><circle cx="405.2" cy="106.3" r="47.4"/><circle cx="405.2" cy="106.3" r="61.1"/><circle cx="405.2" cy="106.3" r="73.1"/><circle cx="405.2" cy="106.3" r="82.3"/><circle cx="405.2" cy="106.3" r="89.4"/><circle cx="405.2" cy="106.3" r="94"/></g><circle cx="374.4" cy="75.5" r="0.44" fill="#fff"/><circle cx="374.4" cy="81.1" r="0.44" fill="#fff"/><circle cx="374.4" cy="86.7" r="0.44" fill="#fff"/><circle cx="374.4" cy="92.3" r="0.44" fill="#fff"/><path d="M374 97.9 L374 100 L373.3 100 L374.4 101.3 L375.5 100 L374.8 100 L374.8 97.9 Z" fill="#fff"/><path d="M374 103.5 L374 105.6 L373.3 105.6 L374.4 106.9 L375.5 105.6 L374.8 105.6 L374.8 103.5 Z" fill="#fff"/><path d="M374 109.1 L374 111.2 L373.3 111.2 L374.4 112.5 L375.5 111.2 L374.8 111.2 L374.8 109.1 Z" fill="#fff"/><path d="M374 114.7 L374 116.8 L373.3 116.8 L374.4 118.1 L375.5 116.8 L374.8 116.8 L374.8 114.7 Z" fill="#fff"/><path d="M374 120.3 L374 122.4 L373.3 122.4 L374.4 123.7 L375.5 122.4 L374.8 122.4 L374.8 120.3 Z" fill="#fff"/><circle cx="374.4" cy="125.9" r="0.44" fill="#fff"/><circle cx="374.4" cy="131.5" r="0.44" fill="#fff"/><circle cx="374.4" cy="137.1" r="0.44" fill="#fff"/><circle cx="380" cy="75.5" r="0.44" fill="#fff"/><circle cx="380" cy="81.1" r="0.44" fill="#fff"/><circle cx="380" cy="86.7" r="0.44" fill="#fff"/><circle cx="380" cy="92.3" r="0.44" fill="#fff"/><path d="M379.6 97.9 L379.6 100 L378.9 100 L380 101.3 L381.1 100 L380.4 100 L380.4 97.9 Z" fill="#fff"/><path d="M379.6 103.5 L379.6 105.6 L378.9 105.6 L380 106.9 L381.1 105.6 L380.4 105.6 L380.4 103.5 Z" fill="#fff"/><path d="M379.6 109.1 L379.6 111.2 L378.9 111.2 L380 112.5 L381.1 111.2 L380.4 111.2 L380.4 109.1 Z" fill="#fff"/><path d="M379.6 114.7 L379.6 116.8 L378.9 116.8 L380 118.1 L381.1 116.8 L380.4 116.8 L380.4 114.7 Z" fill="#fff"/><path d="M379.6 120.3 L379.6 122.4 L378.9 122.4 L380 123.7 L381.1 122.4 L380.4 122.4 L380.4 120.3 Z" fill="#fff"/><circle cx="380" cy="125.9" r="0.44" fill="#fff"/><circle cx="380" cy="131.5" r="0.44" fill="#fff"/><circle cx="380" cy="137.1" r="0.44" fill="#fff"/><circle cx="385.6" cy="75.5" r="0.44" fill="#fff"/><circle cx="385.6" cy="81.1" r="0.44" fill="#fff"/><circle cx="385.6" cy="86.7" r="0.44" fill="#fff"/><circle cx="385.6" cy="92.3" r="0.44" fill="#fff"/><path d="M385.2 97.9 L385.2 100 L384.5 100 L385.6 101.3 L386.7 100 L386 100 L386 97.9 Z" fill="#fff"/><path d="M385.2 103.5 L385.2 105.6 L384.5 105.6 L385.6 106.9 L386.7 105.6 L386 105.6 L386 103.5 Z" fill="#fff"/><path d="M385.2 109.1 L385.2 111.2 L384.5 111.2 L385.6 112.5 L386.7 111.2 L386 111.2 L386 109.1 Z" fill="#fff"/><path d="M385.2 114.7 L385.2 116.8 L384.5 116.8 L385.6 118.1 L386.7 116.8 L386 116.8 L386 114.7 Z" fill="#fff"/><path d="M385.2 120.3 L385.2 122.4 L384.5 122.4 L385.6 123.7 L386.7 122.4 L386 122.4 L386 120.3 Z" fill="#fff"/><circle cx="385.6" cy="125.9" r="0.44" fill="#fff"/><circle cx="385.6" cy="131.5" r="0.44" fill="#fff"/><circle cx="385.6" cy="137.1" r="0.44" fill="#fff"/><circle cx="391.2" cy="75.5" r="0.44" fill="#fff"/><circle cx="391.2" cy="81.1" r="0.44" fill="#fff"/><circle cx="391.2" cy="86.7" r="0.44" fill="#fff"/><path d="M391.48 92.02 L390.96 91.5 L391.46 91 L389.9 91 L389.9 92.56 L390.4 92.06 L390.92 92.58 Z" fill="#fff"/><path d="M391.48 97.62 L390.96 97.1 L391.46 96.6 L389.9 96.6 L389.9 98.16 L390.4 97.66 L390.92 98.18 Z" fill="#fff"/><circle cx="391.2" cy="103.5" r="0.44" fill="#fff"/><circle cx="391.2" cy="109.1" r="0.44" fill="#fff"/><path d="M391.2 115.1 L391.64 115.1 L391.64 115.8 L392.3 114.7 L391.64 113.6 L391.64 114.3 L391.2 114.3 Z" fill="#fff"/><path d="M391.25 120.7 L392.36 120.56 L392.45 121.25 L393.6 120 L392.17 119.07 L392.26 119.76 L391.15 119.9 Z" fill="#fff"/><circle cx="391.2" cy="125.9" r="0.44" fill="#fff"/><circle cx="391.2" cy="131.5" r="0.44" fill="#fff"/><circle cx="391.2" cy="137.1" r="0.44" fill="#fff"/><circle cx="396.8" cy="75.5" r="0.44" fill="#fff"/><circle cx="396.8" cy="81.1" r="0.44" fill="#fff"/><circle cx="396.8" cy="86.7" r="0.44" fill="#fff"/><path d="M397.08 92.02 L396.52 91.46 L397.02 90.96 L395.4 90.9 L395.46 92.52 L395.96 92.02 L396.52 92.58 Z" fill="#fff"/><path d="M397.08 97.62 L396.1 96.64 L396.6 96.14 L394.9 96 L395.04 97.7 L395.54 97.2 L396.52 98.18 Z" fill="#fff"/><path d="M397.2 103.5 L397.2 102.4 L397.9 102.4 L396.8 101.1 L395.7 102.4 L396.4 102.4 L396.4 103.5 Z" fill="#fff"/><path d="M397.2 109.1 L397.2 108 L397.9 108 L396.8 106.7 L395.7 108 L396.4 108 L396.4 109.1 Z" fill="#fff"/><path d="M397.17 114.85 L397.6 113.76 L398.25 114.01 L397.7 112.4 L396.2 113.21 L396.85 113.46 L396.43 114.55 Z" fill="#fff"/><path d="M397.17 120.44 L397.41 119.8 L398.07 120.05 L397.4 118.7 L396.01 119.27 L396.67 119.52 L396.43 120.16 Z" fill="#fff"/><circle cx="396.8" cy="125.9" r="0.44" fill="#fff"/><circle cx="396.8" cy="131.5" r="0.44" fill="#fff"/><circle cx="396.8" cy="137.1" r="0.44" fill="#fff"/><circle cx="402.4" cy="75.5" r="0.44" fill="#fff"/><circle cx="402.4" cy="81.1" r="0.44" fill="#fff"/><path d="M402.8 86.64 L402.68 85.84 L403.37 85.74 L402.1 84.7 L401.19 86.06 L401.88 85.96 L402 86.76 Z" fill="#fff"/><path d="M402.8 92.3 L402.8 91.98 L403.5 91.98 L402.4 91.5 L401.3 91.98 L402 91.98 L402 92.3 Z" fill="#fff"/><path d="M402.8 97.88 L402.62 94.48 L403.32 94.44 L402.15 93.2 L401.12 94.56 L401.82 94.52 L402 97.92 Z" fill="#fff"/><path d="M402.8 103.5 L402.8 99.3 L403.5 99.3 L402.4 98 L401.3 99.3 L402 99.3 L402 103.5 Z" fill="#fff"/><path d="M402.8 109.1 L402.8 104.9 L403.5 104.9 L402.4 103.6 L401.3 104.9 L402 104.9 L402 109.1 Z" fill="#fff"/><path d="M402.8 114.7 L402.8 110.5 L403.5 110.5 L402.4 109.2 L401.3 110.5 L402 110.5 L402 114.7 Z" fill="#fff"/><path d="M402.8 120.34 L402.96 118.73 L403.66 118.81 L402.7 117.4 L401.47 118.58 L402.17 118.65 L402 120.26 Z" fill="#fff"/><path d="M402.8 125.9 L402.8 125.42 L403.5 125.42 L402.4 124.7 L401.3 125.42 L402 125.42 L402 125.9 Z" fill="#fff"/><circle cx="402.4" cy="131.5" r="0.44" fill="#fff"/><circle cx="402.4" cy="137.1" r="0.44" fill="#fff"/><circle cx="408" cy="75.5" r="0.44" fill="#fff"/><circle cx="408" cy="81.1" r="0.44" fill="#fff"/><path d="M408.4 86.76 L408.52 85.96 L409.21 86.06 L408.3 84.7 L407.03 85.74 L407.72 85.84 L407.6 86.64 Z" fill="#fff"/><path d="M408.4 92.3 L408.4 91.98 L409.1 91.98 L408 91.5 L406.9 91.98 L407.6 91.98 L407.6 92.3 Z" fill="#fff"/><path d="M408.4 97.92 L408.58 94.52 L409.28 94.56 L408.25 93.2 L407.08 94.44 L407.78 94.48 L407.6 97.88 Z" fill="#fff"/><path d="M408.4 103.5 L408.4 99.3 L409.1 99.3 L408 98 L406.9 99.3 L407.6 99.3 L407.6 103.5 Z" fill="#fff"/><path d="M408.4 109.1 L408.4 104.9 L409.1 104.9 L408 103.6 L406.9 104.9 L407.6 104.9 L407.6 109.1 Z" fill="#fff"/><path d="M408.4 114.7 L408.4 110.5 L409.1 110.5 L408 109.2 L406.9 110.5 L407.6 110.5 L407.6 114.7 Z" fill="#fff"/><path d="M408.4 120.26 L408.23 118.65 L408.93 118.58 L407.7 117.4 L406.74 118.81 L407.44 118.73 L407.6 120.34 Z" fill="#fff"/><path d="M408.4 125.9 L408.4 125.42 L409.1 125.42 L408 124.7 L406.9 125.42 L407.6 125.42 L407.6 125.9 Z" fill="#fff"/><circle cx="408" cy="131.5" r="0.44" fill="#fff"/><circle cx="408" cy="137.1" r="0.44" fill="#fff"/><circle cx="413.6" cy="75.5" r="0.44" fill="#fff"/><circle cx="413.6" cy="81.1" r="0.44" fill="#fff"/><circle cx="413.6" cy="86.7" r="0.44" fill="#fff"/><path d="M413.88 92.58 L414.44 92.02 L414.94 92.52 L415 90.9 L413.38 90.96 L413.88 91.46 L413.32 92.02 Z" fill="#fff"/><path d="M413.88 98.18 L414.86 97.2 L415.36 97.7 L415.5 96 L413.8 96.14 L414.3 96.64 L413.32 97.62 Z" fill="#fff"/><path d="M414 103.5 L414 102.4 L414.7 102.4 L413.6 101.1 L412.5 102.4 L413.2 102.4 L413.2 103.5 Z" fill="#fff"/><path d="M414 109.1 L414 108 L414.7 108 L413.6 106.7 L412.5 108 L413.2 108 L413.2 109.1 Z" fill="#fff"/><path d="M413.97 114.55 L413.55 113.46 L414.2 113.21 L412.7 112.4 L412.15 114.01 L412.8 113.76 L413.23 114.85 Z" fill="#fff"/><path d="M413.97 120.16 L413.73 119.52 L414.39 119.27 L413 118.7 L412.33 120.05 L412.99 119.8 L413.23 120.44 Z" fill="#fff"/><circle cx="413.6" cy="125.9" r="0.44" fill="#fff"/><circle cx="413.6" cy="131.5" r="0.44" fill="#fff"/><circle cx="413.6" cy="137.1" r="0.44" fill="#fff"/><circle cx="419.2" cy="75.5" r="0.44" fill="#fff"/><circle cx="419.2" cy="81.1" r="0.44" fill="#fff"/><circle cx="419.2" cy="86.7" r="0.44" fill="#fff"/><path d="M419.48 92.58 L420 92.06 L420.5 92.56 L420.5 91 L418.94 91 L419.44 91.5 L418.92 92.02 Z" fill="#fff"/><path d="M419.48 98.18 L420 97.66 L420.5 98.16 L420.5 96.6 L418.94 96.6 L419.44 97.1 L418.92 97.62 Z" fill="#fff"/><circle cx="419.2" cy="103.5" r="0.44" fill="#fff"/><circle cx="419.2" cy="109.1" r="0.44" fill="#fff"/><path d="M419.2 114.3 L418.76 114.3 L418.76 113.6 L418.1 114.7 L418.76 115.8 L418.76 115.1 L419.2 115.1 Z" fill="#fff"/><path d="M419.25 119.9 L418.14 119.76 L418.23 119.07 L416.8 120 L417.95 121.25 L418.04 120.56 L419.15 120.7 Z" fill="#fff"/><circle cx="419.2" cy="125.9" r="0.44" fill="#fff"/><circle cx="419.2" cy="131.5" r="0.44" fill="#fff"/><circle cx="419.2" cy="137.1" r="0.44" fill="#fff"/><circle cx="424.8" cy="75.5" r="0.44" fill="#fff"/><circle cx="424.8" cy="81.1" r="0.44" fill="#fff"/><circle cx="424.8" cy="86.7" r="0.44" fill="#fff"/><circle cx="424.8" cy="92.3" r="0.44" fill="#fff"/><path d="M424.4 97.9 L424.4 100 L423.7 100 L424.8 101.3 L425.9 100 L425.2 100 L425.2 97.9 Z" fill="#fff"/><path d="M424.4 103.5 L424.4 105.6 L423.7 105.6 L424.8 106.9 L425.9 105.6 L425.2 105.6 L425.2 103.5 Z" fill="#fff"/><path d="M424.4 109.1 L424.4 111.2 L423.7 111.2 L424.8 112.5 L425.9 111.2 L425.2 111.2 L425.2 109.1 Z" fill="#fff"/><path d="M424.4 114.7 L424.4 116.8 L423.7 116.8 L424.8 118.1 L425.9 116.8 L425.2 116.8 L425.2 114.7 Z" fill="#fff"/><path d="M424.4 120.3 L424.4 122.4 L423.7 122.4 L424.8 123.7 L425.9 122.4 L425.2 122.4 L425.2 120.3 Z" fill="#fff"/><circle cx="424.8" cy="125.9" r="0.44" fill="#fff"/><circle cx="424.8" cy="131.5" r="0.44" fill="#fff"/><circle cx="424.8" cy="137.1" r="0.44" fill="#fff"/><circle cx="430.4" cy="75.5" r="0.44" fill="#fff"/><circle cx="430.4" cy="81.1" r="0.44" fill="#fff"/><circle cx="430.4" cy="86.7" r="0.44" fill="#fff"/><circle cx="430.4" cy="92.3" r="0.44" fill="#fff"/><path d="M430 97.9 L430 100 L429.3 100 L430.4 101.3 L431.5 100 L430.8 100 L430.8 97.9 Z" fill="#fff"/><path d="M430 103.5 L430 105.6 L429.3 105.6 L430.4 106.9 L431.5 105.6 L430.8 105.6 L430.8 103.5 Z" fill="#fff"/><path d="M430 109.1 L430 111.2 L429.3 111.2 L430.4 112.5 L431.5 111.2 L430.8 111.2 L430.8 109.1 Z" fill="#fff"/><path d="M430 114.7 L430 116.8 L429.3 116.8 L430.4 118.1 L431.5 116.8 L430.8 116.8 L430.8 114.7 Z" fill="#fff"/><path d="M430 120.3 L430 122.4 L429.3 122.4 L430.4 123.7 L431.5 122.4 L430.8 122.4 L430.8 120.3 Z" fill="#fff"/><circle cx="430.4" cy="125.9" r="0.44" fill="#fff"/><circle cx="430.4" cy="131.5" r="0.44" fill="#fff"/><circle cx="430.4" cy="137.1" r="0.44" fill="#fff"/><circle cx="436" cy="75.5" r="0.44" fill="#fff"/><circle cx="436" cy="81.1" r="0.44" fill="#fff"/><circle cx="436" cy="86.7" r="0.44" fill="#fff"/><circle cx="436" cy="92.3" r="0.44" fill="#fff"/><path d="M435.6 97.9 L435.6 100 L434.9 100 L436 101.3 L437.1 100 L436.4 100 L436.4 97.9 Z" fill="#fff"/><path d="M435.6 103.5 L435.6 105.6 L434.9 105.6 L436 106.9 L437.1 105.6 L436.4 105.6 L436.4 103.5 Z" fill="#fff"/><path d="M435.6 109.1 L435.6 111.2 L434.9 111.2 L436 112.5 L437.1 111.2 L436.4 111.2 L436.4 109.1 Z" fill="#fff"/><path d="M435.6 114.7 L435.6 116.8 L434.9 116.8 L436 118.1 L437.1 116.8 L436.4 116.8 L436.4 114.7 Z" fill="#fff"/><path d="M435.6 120.3 L435.6 122.4 L434.9 122.4 L436 123.7 L437.1 122.4 L436.4 122.4 L436.4 120.3 Z" fill="#fff"/><circle cx="436" cy="125.9" r="0.44" fill="#fff"/><circle cx="436" cy="131.5" r="0.44" fill="#fff"/><circle cx="436" cy="137.1" r="0.44" fill="#fff"/><rect x="390.2" y="91.3" width="30" height="30" fill="none" stroke="#cfcde6" stroke-width="0.9"/><path d="M390.2 91.3 L420.3 18.1 M420.2 121.3 L494.7 92.6" stroke="#cfcde6" stroke-width="0.8" fill="none"/><g clip-path="url(#cinb)"><rect x="420.3" y="18.1" width="74.4" height="74.5" fill="#0000ad"/><circle cx="457.5" cy="55.35" r="38.7" fill="url(#inb)"/><ellipse cx="457.5" cy="55.35" rx="44" ry="30" fill="url(#inb2)"/><ellipse cx="457.5" cy="0.79" rx="40.52" ry="26.39" fill="url(#bl3)"/><ellipse cx="457.5" cy="109.91" rx="40.52" ry="26.39" fill="url(#bl4)"/><use href="#fhblob" transform="translate(457.5 55.35) scale(2.48)"/><circle cx="457.5" cy="55.35" r="36.7" fill="none" stroke="#22882c" stroke-width="1.1" stroke-dasharray="1.6 1.6"/><path d="M423.17 20.24 L421.88 18.95 L422.62 18.21 L419.56 17.41 L420.36 20.47 L421.1 19.73 L422.39 21.02 Z" fill="#fff"/><path d="M423.17 34.13 L421.88 32.84 L422.62 32.1 L419.56 31.29 L420.36 34.36 L421.1 33.62 L422.39 34.91 Z" fill="#fff"/><circle cx="422.78" cy="48.41" r="0.61" fill="#fff"/><circle cx="422.78" cy="62.29" r="0.61" fill="#fff"/><path d="M422.78 76.73 L423.87 76.73 L423.87 77.78 L425.51 76.18 L423.87 74.58 L423.87 75.63 L422.78 75.63 Z" fill="#fff"/><path d="M422.85 90.62 L425.62 90.27 L425.76 91.31 L428.73 89.33 L425.36 88.14 L425.49 89.18 L422.71 89.52 Z" fill="#fff"/><path d="M437.06 20.24 L435.67 18.85 L436.41 18.11 L433.2 17.16 L434.15 20.37 L434.89 19.63 L436.28 21.02 Z" fill="#fff"/><path d="M437.06 34.13 L434.61 31.68 L435.35 30.94 L431.96 29.81 L433.09 33.2 L433.83 32.46 L436.28 34.91 Z" fill="#fff"/><path d="M437.22 48.41 L437.22 45.65 L438.27 45.65 L436.67 42.45 L435.07 45.65 L436.12 45.65 L436.12 48.41 Z" fill="#fff"/><path d="M437.22 62.29 L437.22 59.54 L438.27 59.54 L436.67 56.34 L435.07 59.54 L436.12 59.54 L436.12 62.29 Z" fill="#fff"/><path d="M437.18 76.38 L438.25 73.66 L439.22 74.04 L438.9 70.48 L436.24 72.87 L437.22 73.26 L436.16 75.98 Z" fill="#fff"/><path d="M437.18 90.26 L437.78 88.68 L438.76 89.04 L438.16 86.1 L435.77 87.92 L436.75 88.29 L436.15 89.88 Z" fill="#fff"/><path d="M451.11 20.63 L451.11 19.84 L452.16 19.84 L450.56 18.65 L448.96 19.84 L450.01 19.84 L450.01 20.63 Z" fill="#fff"/><path d="M451.11 34.49 L450.66 26.03 L451.7 25.97 L449.94 22.86 L448.51 26.14 L449.56 26.09 L450.01 34.55 Z" fill="#fff"/><path d="M451.11 48.41 L451.11 37.97 L452.16 37.97 L450.56 34.77 L448.96 37.97 L450.01 37.97 L450.01 48.41 Z" fill="#fff"/><path d="M451.11 62.29 L451.11 51.85 L452.16 51.85 L450.56 48.65 L448.96 51.85 L450.01 51.85 L450.01 62.29 Z" fill="#fff"/><path d="M451.11 76.18 L451.11 65.74 L452.16 65.74 L450.56 62.54 L448.96 65.74 L450.01 65.74 L450.01 76.18 Z" fill="#fff"/><path d="M451.1 90.13 L451.52 86.12 L452.56 86.23 L451.3 82.88 L449.38 85.9 L450.42 86 L450.01 90.01 Z" fill="#fff"/><path d="M464.99 20.63 L464.99 19.84 L466.04 19.84 L464.44 18.65 L462.84 19.84 L463.89 19.84 L463.89 20.63 Z" fill="#fff"/><path d="M464.99 34.55 L465.44 26.09 L466.49 26.14 L465.06 22.86 L463.3 25.97 L464.34 26.03 L463.89 34.49 Z" fill="#fff"/><path d="M464.99 48.41 L464.99 37.97 L466.04 37.97 L464.44 34.77 L462.84 37.97 L463.89 37.97 L463.89 48.41 Z" fill="#fff"/><path d="M464.99 62.29 L464.99 51.85 L466.04 51.85 L464.44 48.65 L462.84 51.85 L463.89 51.85 L463.89 62.29 Z" fill="#fff"/><path d="M464.99 76.18 L464.99 65.74 L466.04 65.74 L464.44 62.54 L462.84 65.74 L463.89 65.74 L463.89 76.18 Z" fill="#fff"/><path d="M464.99 90.01 L464.58 86 L465.62 85.9 L463.7 82.88 L462.44 86.23 L463.48 86.12 L463.9 90.13 Z" fill="#fff"/><path d="M478.72 21.02 L480.11 19.63 L480.85 20.37 L481.8 17.16 L478.59 18.11 L479.33 18.85 L477.94 20.24 Z" fill="#fff"/><path d="M478.72 34.91 L481.17 32.46 L481.91 33.2 L483.04 29.81 L479.65 30.94 L480.39 31.68 L477.94 34.13 Z" fill="#fff"/><path d="M478.88 48.41 L478.88 45.65 L479.93 45.65 L478.33 42.45 L476.73 45.65 L477.78 45.65 L477.78 48.41 Z" fill="#fff"/><path d="M478.88 62.29 L478.88 59.54 L479.93 59.54 L478.33 56.34 L476.73 59.54 L477.78 59.54 L477.78 62.29 Z" fill="#fff"/><path d="M478.84 75.98 L477.78 73.26 L478.76 72.87 L476.1 70.48 L475.78 74.04 L476.75 73.66 L477.82 76.38 Z" fill="#fff"/><path d="M478.85 89.88 L478.25 88.29 L479.23 87.92 L476.84 86.1 L476.24 89.04 L477.22 88.68 L477.82 90.26 Z" fill="#fff"/><path d="M492.61 21.02 L493.9 19.73 L494.64 20.47 L495.44 17.41 L492.38 18.21 L493.12 18.95 L491.83 20.24 Z" fill="#fff"/><path d="M492.61 34.91 L493.9 33.62 L494.64 34.36 L495.44 31.29 L492.38 32.1 L493.12 32.84 L491.83 34.13 Z" fill="#fff"/><circle cx="492.22" cy="48.41" r="0.61" fill="#fff"/><circle cx="492.22" cy="62.29" r="0.61" fill="#fff"/><path d="M492.22 75.63 L491.13 75.63 L491.13 74.58 L489.49 76.18 L491.13 77.78 L491.13 76.73 L492.22 76.73 Z" fill="#fff"/><path d="M492.29 89.52 L489.51 89.18 L489.64 88.14 L486.27 89.33 L489.24 91.31 L489.38 90.27 L492.15 90.62 Z" fill="#fff"/></g><rect x="420.3" y="18.1" width="74.4" height="74.5" fill="none" stroke="#cfcde6" stroke-width="1.1"/></g><g clip-path="url(#clipd)"><rect x="310.2" y="239.2" width="190.2" height="190.2" fill="#000089"/><circle cx="405.2" cy="334.05" r="95" fill="url(#bgd)"/><circle cx="405.2" cy="334.05" r="15" fill="url(#dn5)"/><g fill="none" stroke="#197a22" stroke-width="1.25" stroke-dasharray="2 1"><circle cx="405.2" cy="334.05" r="15.2"/><circle cx="405.2" cy="334.05" r="31.6"/><circle cx="405.2" cy="334.05" r="47.4"/><circle cx="405.2" cy="334.05" r="61.1"/><circle cx="405.2" cy="334.05" r="73.1"/><circle cx="405.2" cy="334.05" r="82.3"/><circle cx="405.2" cy="334.05" r="89.4"/><circle cx="405.2" cy="334.05" r="94"/></g><circle cx="385.6" cy="314.45" r="0.44" fill="#fff"/><circle cx="385.6" cy="320.05" r="0.44" fill="#fff"/><circle cx="385.6" cy="325.65" r="0.44" fill="#fff"/><circle cx="385.6" cy="331.25" r="0.44" fill="#fff"/><circle cx="385.6" cy="336.85" r="0.44" fill="#fff"/><circle cx="385.6" cy="342.45" r="0.44" fill="#fff"/><circle cx="385.6" cy="348.05" r="0.44" fill="#fff"/><circle cx="385.6" cy="353.65" r="0.44" fill="#fff"/><circle cx="391.2" cy="314.45" r="0.44" fill="#fff"/><circle cx="391.2" cy="320.05" r="0.44" fill="#fff"/><circle cx="391.2" cy="325.65" r="0.44" fill="#fff"/><circle cx="391.2" cy="331.25" r="0.44" fill="#fff"/><circle cx="391.2" cy="336.85" r="0.44" fill="#fff"/><circle cx="391.2" cy="342.45" r="0.44" fill="#fff"/><circle cx="391.2" cy="348.05" r="0.44" fill="#fff"/><circle cx="391.2" cy="353.65" r="0.44" fill="#fff"/><circle cx="396.8" cy="314.45" r="0.44" fill="#fff"/><circle cx="396.8" cy="320.05" r="0.44" fill="#fff"/><path d="M396.52 325.93 L396.97 326.39 L396.47 326.88 L397.93 326.78 L398.03 325.32 L397.54 325.82 L397.08 325.37 Z" fill="#fff"/><path d="M396.67 331.63 L398.57 332.26 L398.35 332.93 L399.93 332.29 L399.05 330.84 L398.82 331.5 L396.93 330.87 Z" fill="#fff"/><path d="M396.93 337.23 L398.82 336.6 L399.05 337.26 L399.93 335.81 L398.35 335.17 L398.57 335.84 L396.67 336.47 Z" fill="#fff"/><path d="M397.08 342.73 L397.54 342.28 L398.03 342.78 L397.93 341.32 L396.47 341.22 L396.97 341.71 L396.52 342.17 Z" fill="#fff"/><circle cx="396.8" cy="348.05" r="0.44" fill="#fff"/><circle cx="396.8" cy="353.65" r="0.44" fill="#fff"/><circle cx="402.4" cy="314.45" r="0.44" fill="#fff"/><circle cx="402.4" cy="320.05" r="0.44" fill="#fff"/><path d="M402.02 325.78 L402.65 327.67 L401.99 327.9 L403.44 328.78 L404.08 327.2 L403.41 327.42 L402.78 325.52 Z" fill="#fff"/><path d="M402.12 331.53 L403.04 332.45 L402.54 332.95 L404.24 333.09 L404.1 331.39 L403.6 331.89 L402.68 330.97 Z" fill="#fff"/><path d="M402.68 337.13 L403.6 336.21 L404.1 336.71 L404.24 335.01 L402.54 335.15 L403.04 335.65 L402.12 336.57 Z" fill="#fff"/><path d="M402.78 342.58 L403.41 340.68 L404.08 340.9 L403.44 339.32 L401.99 340.2 L402.65 340.43 L402.02 342.32 Z" fill="#fff"/><circle cx="402.4" cy="348.05" r="0.44" fill="#fff"/><circle cx="402.4" cy="353.65" r="0.44" fill="#fff"/><circle cx="408" cy="314.45" r="0.44" fill="#fff"/><circle cx="408" cy="320.05" r="0.44" fill="#fff"/><path d="M407.62 325.52 L406.99 327.42 L406.32 327.2 L406.96 328.78 L408.41 327.9 L407.75 327.67 L408.38 325.78 Z" fill="#fff"/><path d="M407.72 330.97 L406.8 331.89 L406.3 331.39 L406.16 333.09 L407.86 332.95 L407.36 332.45 L408.28 331.53 Z" fill="#fff"/><path d="M408.28 336.57 L407.36 335.65 L407.86 335.15 L406.16 335.01 L406.3 336.71 L406.8 336.21 L407.72 337.13 Z" fill="#fff"/><path d="M408.38 342.32 L407.75 340.43 L408.41 340.2 L406.96 339.32 L406.32 340.9 L406.99 340.68 L407.62 342.58 Z" fill="#fff"/><circle cx="408" cy="348.05" r="0.44" fill="#fff"/><circle cx="408" cy="353.65" r="0.44" fill="#fff"/><circle cx="413.6" cy="314.45" r="0.44" fill="#fff"/><circle cx="413.6" cy="320.05" r="0.44" fill="#fff"/><path d="M413.32 325.37 L412.86 325.82 L412.37 325.32 L412.47 326.78 L413.93 326.88 L413.43 326.39 L413.88 325.93 Z" fill="#fff"/><path d="M413.47 330.87 L411.58 331.5 L411.35 330.84 L410.47 332.29 L412.05 332.93 L411.83 332.26 L413.73 331.63 Z" fill="#fff"/><path d="M413.73 336.47 L411.83 335.84 L412.05 335.17 L410.47 335.81 L411.35 337.26 L411.58 336.6 L413.47 337.23 Z" fill="#fff"/><path d="M413.88 342.17 L413.43 341.71 L413.93 341.22 L412.47 341.32 L412.37 342.78 L412.86 342.28 L413.32 342.73 Z" fill="#fff"/><circle cx="413.6" cy="348.05" r="0.44" fill="#fff"/><circle cx="413.6" cy="353.65" r="0.44" fill="#fff"/><circle cx="419.2" cy="314.45" r="0.44" fill="#fff"/><circle cx="419.2" cy="320.05" r="0.44" fill="#fff"/><circle cx="419.2" cy="325.65" r="0.44" fill="#fff"/><circle cx="419.2" cy="331.25" r="0.44" fill="#fff"/><circle cx="419.2" cy="336.85" r="0.44" fill="#fff"/><circle cx="419.2" cy="342.45" r="0.44" fill="#fff"/><circle cx="419.2" cy="348.05" r="0.44" fill="#fff"/><circle cx="419.2" cy="353.65" r="0.44" fill="#fff"/><circle cx="424.8" cy="314.45" r="0.44" fill="#fff"/><circle cx="424.8" cy="320.05" r="0.44" fill="#fff"/><circle cx="424.8" cy="325.65" r="0.44" fill="#fff"/><circle cx="424.8" cy="331.25" r="0.44" fill="#fff"/><circle cx="424.8" cy="336.85" r="0.44" fill="#fff"/><circle cx="424.8" cy="342.45" r="0.44" fill="#fff"/><circle cx="424.8" cy="348.05" r="0.44" fill="#fff"/><circle cx="424.8" cy="353.65" r="0.44" fill="#fff"/><rect x="390.2" y="319.05" width="30" height="30" fill="none" stroke="#cfcde6" stroke-width="0.9"/><path d="M390.2 319.05 L420.5 245.5 M420.2 349.05 L494.3 319.8" stroke="#cfcde6" stroke-width="0.8" fill="none"/><g clip-path="url(#cind)"><rect x="420.5" y="245.5" width="73.8" height="74.3" fill="#0000ad"/><circle cx="457.4" cy="282.65" r="38.41" fill="url(#ind)"/><circle cx="457.4" cy="282.65" r="36.9" fill="url(#dn6)"/><circle cx="457.4" cy="282.65" r="36.41" fill="none" stroke="#22882c" stroke-width="1.1" stroke-dasharray="1.6 1.6"/><circle cx="422.96" cy="248.21" r="0.61" fill="#fff"/><circle cx="422.96" cy="261.99" r="0.61" fill="#fff"/><circle cx="422.96" cy="275.76" r="0.61" fill="#fff"/><circle cx="422.96" cy="289.54" r="0.61" fill="#fff"/><circle cx="422.96" cy="303.31" r="0.61" fill="#fff"/><circle cx="422.96" cy="317.09" r="0.61" fill="#fff"/><circle cx="436.74" cy="248.21" r="0.61" fill="#fff"/><path d="M436.35 262.37 L437.46 263.49 L436.72 264.23 L439.52 264.77 L438.98 261.97 L438.24 262.71 L437.12 261.6 Z" fill="#fff"/><path d="M436.56 276.28 L441.23 277.84 L440.9 278.84 L444.44 278.33 L441.91 275.8 L441.58 276.8 L436.91 275.24 Z" fill="#fff"/><path d="M436.91 290.06 L441.58 288.5 L441.91 289.5 L444.44 286.97 L440.9 286.46 L441.23 287.46 L436.56 289.02 Z" fill="#fff"/><path d="M437.12 303.7 L438.24 302.59 L438.98 303.33 L439.52 300.53 L436.72 301.07 L437.46 301.81 L436.35 302.93 Z" fill="#fff"/><circle cx="436.74" cy="317.09" r="0.61" fill="#fff"/><circle cx="450.51" cy="248.21" r="0.61" fill="#fff"/><path d="M449.99 262.16 L451.55 266.83 L450.55 267.16 L453.08 269.69 L453.59 266.15 L452.59 266.48 L451.03 261.81 Z" fill="#fff"/><path d="M450.12 276.15 L452.38 278.41 L451.64 279.15 L455.03 280.28 L453.9 276.89 L453.16 277.63 L450.9 275.37 Z" fill="#fff"/><path d="M450.9 289.93 L453.16 287.67 L453.9 288.41 L455.03 285.02 L451.64 286.15 L452.38 286.89 L450.12 289.15 Z" fill="#fff"/><path d="M451.03 303.49 L452.59 298.82 L453.59 299.15 L453.08 295.61 L450.55 298.14 L451.55 298.47 L449.99 303.14 Z" fill="#fff"/><circle cx="450.51" cy="317.09" r="0.61" fill="#fff"/><circle cx="464.29" cy="248.21" r="0.61" fill="#fff"/><path d="M463.77 261.81 L462.21 266.48 L461.21 266.15 L461.72 269.69 L464.25 267.16 L463.25 266.83 L464.81 262.16 Z" fill="#fff"/><path d="M463.9 275.37 L461.64 277.63 L460.9 276.89 L459.77 280.28 L463.16 279.15 L462.42 278.41 L464.68 276.15 Z" fill="#fff"/><path d="M464.68 289.15 L462.42 286.89 L463.16 286.15 L459.77 285.02 L460.9 288.41 L461.64 287.67 L463.9 289.93 Z" fill="#fff"/><path d="M464.81 303.14 L463.25 298.47 L464.25 298.14 L461.72 295.61 L461.21 299.15 L462.21 298.82 L463.77 303.49 Z" fill="#fff"/><circle cx="464.29" cy="317.09" r="0.61" fill="#fff"/><circle cx="478.06" cy="248.21" r="0.61" fill="#fff"/><path d="M477.68 261.6 L476.56 262.71 L475.82 261.97 L475.28 264.77 L478.08 264.23 L477.34 263.49 L478.45 262.37 Z" fill="#fff"/><path d="M477.89 275.24 L473.22 276.8 L472.89 275.8 L470.36 278.33 L473.9 278.84 L473.57 277.84 L478.24 276.28 Z" fill="#fff"/><path d="M478.24 289.02 L473.57 287.46 L473.9 286.46 L470.36 286.97 L472.89 289.5 L473.22 288.5 L477.89 290.06 Z" fill="#fff"/><path d="M478.45 302.93 L477.34 301.81 L478.08 301.07 L475.28 300.53 L475.82 303.33 L476.56 302.59 L477.68 303.7 Z" fill="#fff"/><circle cx="478.06" cy="317.09" r="0.61" fill="#fff"/><circle cx="491.84" cy="248.21" r="0.61" fill="#fff"/><circle cx="491.84" cy="261.99" r="0.61" fill="#fff"/><circle cx="491.84" cy="275.76" r="0.61" fill="#fff"/><circle cx="491.84" cy="289.54" r="0.61" fill="#fff"/><circle cx="491.84" cy="303.31" r="0.61" fill="#fff"/><circle cx="491.84" cy="317.09" r="0.61" fill="#fff"/></g><rect x="420.5" y="245.5" width="73.8" height="74.3" fill="none" stroke="#cfcde6" stroke-width="1.1"/></g><rect x="37" y="11.7" width="190.3" height="189.9" fill="none" stroke="#000" stroke-width="0.8"/><rect x="241" y="11.7" width="10" height="189.9" fill="url(#gvir)" stroke="#000" stroke-width="0.8"/><line x1="251" y1="201.6" x2="253.2" y2="201.6" stroke="#000" stroke-width="0.8"/><text x="255.6" y="205.8" font-size="12" letter-spacing="0.5" fill="#222">0.0</text><line x1="251" y1="163.62" x2="253.2" y2="163.62" stroke="#000" stroke-width="0.8"/><text x="255.6" y="167.82" font-size="12" letter-spacing="0.5" fill="#222">0.2</text><line x1="251" y1="125.64" x2="253.2" y2="125.64" stroke="#000" stroke-width="0.8"/><text x="255.6" y="129.84" font-size="12" letter-spacing="0.5" fill="#222">0.4</text><line x1="251" y1="87.66" x2="253.2" y2="87.66" stroke="#000" stroke-width="0.8"/><text x="255.6" y="91.86" font-size="12" letter-spacing="0.5" fill="#222">0.6</text><line x1="251" y1="49.68" x2="253.2" y2="49.68" stroke="#000" stroke-width="0.8"/><text x="255.6" y="53.88" font-size="12" letter-spacing="0.5" fill="#222">0.8</text><line x1="251" y1="11.7" x2="253.2" y2="11.7" stroke="#000" stroke-width="0.8"/><text x="253.4" y="15.9" font-size="12" letter-spacing="0.5" fill="#222">1.0</text><text x="40" y="27.3" font-size="16.5" letter-spacing="0.3" fill="#f4f4f8">(a)</text><text x="39.8" y="194.7" font-size="15.5" letter-spacing="0.8" fill="#f4f4f8">FH</text><line x1="84.75" y1="201.6" x2="84.75" y2="205.1" stroke="#000" stroke-width="0.8"/><text x="83.95" y="215.8" font-size="11.5" fill="#222" text-anchor="middle">-5</text><line x1="33.5" y1="154.05" x2="37" y2="154.05" stroke="#000" stroke-width="0.8"/><text x="31.3" y="158.05" font-size="11.5" fill="#222" text-anchor="end">-5</text><line x1="132.15" y1="201.6" x2="132.15" y2="205.1" stroke="#000" stroke-width="0.8"/><text x="132.15" y="215.8" font-size="11.5" fill="#222" text-anchor="middle">0</text><line x1="33.5" y1="106.65" x2="37" y2="106.65" stroke="#000" stroke-width="0.8"/><text x="31.3" y="110.65" font-size="11.5" fill="#222" text-anchor="end">0</text><line x1="179.55" y1="201.6" x2="179.55" y2="205.1" stroke="#000" stroke-width="0.8"/><text x="179.55" y="215.8" font-size="11.5" fill="#222" text-anchor="middle">5</text><line x1="33.5" y1="59.25" x2="37" y2="59.25" stroke="#000" stroke-width="0.8"/><text x="31.3" y="63.25" font-size="11.5" fill="#222" text-anchor="end">5</text><text x="132.95" y="230.2" font-size="13" letter-spacing="1.6" fill="#222" text-anchor="middle" font-style="italic">x/a</text><text transform="translate(15.6 105.45) rotate(-90)" font-size="13" letter-spacing="1.1" fill="#222" text-anchor="middle" font-style="italic">y/a</text><rect x="310.2" y="11.5" width="190.2" height="190.1" fill="none" stroke="#000" stroke-width="0.8"/><rect x="513.3" y="11.5" width="10.3" height="190.1" fill="url(#gjet)" stroke="#000" stroke-width="0.8"/><line x1="523.6" y1="201.6" x2="525.8" y2="201.6" stroke="#000" stroke-width="0.8"/><text x="528.2" y="205.8" font-size="12" letter-spacing="0.5" fill="#222">0.0</text><line x1="523.6" y1="163.58" x2="525.8" y2="163.58" stroke="#000" stroke-width="0.8"/><text x="528.2" y="167.78" font-size="12" letter-spacing="0.5" fill="#222">0.2</text><line x1="523.6" y1="125.56" x2="525.8" y2="125.56" stroke="#000" stroke-width="0.8"/><text x="528.2" y="129.76" font-size="12" letter-spacing="0.5" fill="#222">0.4</text><line x1="523.6" y1="87.54" x2="525.8" y2="87.54" stroke="#000" stroke-width="0.8"/><text x="528.2" y="91.74" font-size="12" letter-spacing="0.5" fill="#222">0.6</text><line x1="523.6" y1="49.52" x2="525.8" y2="49.52" stroke="#000" stroke-width="0.8"/><text x="528.2" y="53.72" font-size="12" letter-spacing="0.5" fill="#222">0.8</text><line x1="523.6" y1="11.5" x2="525.8" y2="11.5" stroke="#000" stroke-width="0.8"/><text x="526" y="15.7" font-size="12" letter-spacing="0.5" fill="#222">1.0</text><text x="315.1" y="27.1" font-size="16.5" letter-spacing="0.6" fill="#f4f4f8">(b)</text><text x="313" y="194.5" font-size="15.5" letter-spacing="0.8" fill="#f4f4f8">FH</text><rect x="37" y="239" width="190.3" height="190.4" fill="none" stroke="#000" stroke-width="0.8"/><rect x="241" y="239" width="10" height="190.4" fill="url(#gvir)" stroke="#000" stroke-width="0.8"/><line x1="251" y1="429.4" x2="253.2" y2="429.4" stroke="#000" stroke-width="0.8"/><text x="255.6" y="433.6" font-size="12" letter-spacing="0.5" fill="#222">0.0</text><line x1="251" y1="391.32" x2="253.2" y2="391.32" stroke="#000" stroke-width="0.8"/><text x="255.6" y="395.52" font-size="12" letter-spacing="0.5" fill="#222">0.2</text><line x1="251" y1="353.24" x2="253.2" y2="353.24" stroke="#000" stroke-width="0.8"/><text x="255.6" y="357.44" font-size="12" letter-spacing="0.5" fill="#222">0.4</text><line x1="251" y1="315.16" x2="253.2" y2="315.16" stroke="#000" stroke-width="0.8"/><text x="255.6" y="319.36" font-size="12" letter-spacing="0.5" fill="#222">0.6</text><line x1="251" y1="277.08" x2="253.2" y2="277.08" stroke="#000" stroke-width="0.8"/><text x="255.6" y="281.28" font-size="12" letter-spacing="0.5" fill="#222">0.8</text><line x1="251" y1="239" x2="253.2" y2="239" stroke="#000" stroke-width="0.8"/><text x="253.4" y="243.2" font-size="12" letter-spacing="0.5" fill="#222">1.0</text><text x="40" y="254.6" font-size="16.5" letter-spacing="0.3" fill="#f4f4f8">(c)</text><text x="39.6" y="422" font-size="15.2" letter-spacing="-0.4" fill="#f4f4f8">SH</text><line x1="84.75" y1="429.4" x2="84.75" y2="432.9" stroke="#000" stroke-width="0.8"/><text x="83.95" y="443.6" font-size="11.5" fill="#222" text-anchor="middle">-5</text><line x1="33.5" y1="381.6" x2="37" y2="381.6" stroke="#000" stroke-width="0.8"/><text x="31.3" y="385.6" font-size="11.5" fill="#222" text-anchor="end">-5</text><line x1="132.15" y1="429.4" x2="132.15" y2="432.9" stroke="#000" stroke-width="0.8"/><text x="132.15" y="443.6" font-size="11.5" fill="#222" text-anchor="middle">0</text><line x1="33.5" y1="334.2" x2="37" y2="334.2" stroke="#000" stroke-width="0.8"/><text x="31.3" y="338.2" font-size="11.5" fill="#222" text-anchor="end">0</text><line x1="179.55" y1="429.4" x2="179.55" y2="432.9" stroke="#000" stroke-width="0.8"/><text x="179.55" y="443.6" font-size="11.5" fill="#222" text-anchor="middle">5</text><line x1="33.5" y1="286.8" x2="37" y2="286.8" stroke="#000" stroke-width="0.8"/><text x="31.3" y="290.8" font-size="11.5" fill="#222" text-anchor="end">5</text><text x="132.95" y="458" font-size="13" letter-spacing="1.6" fill="#222" text-anchor="middle" font-style="italic">x/a</text><text transform="translate(15.6 333) rotate(-90)" font-size="13" letter-spacing="1.1" fill="#222" text-anchor="middle" font-style="italic">y/a</text><rect x="310.2" y="239.2" width="190.2" height="190.2" fill="none" stroke="#000" stroke-width="0.8"/><rect x="513.3" y="239.2" width="10.3" height="190.2" fill="url(#gjet)" stroke="#000" stroke-width="0.8"/><line x1="523.6" y1="429.4" x2="525.8" y2="429.4" stroke="#000" stroke-width="0.8"/><text x="528.2" y="433.6" font-size="12" letter-spacing="0.5" fill="#222">0.0</text><line x1="523.6" y1="391.36" x2="525.8" y2="391.36" stroke="#000" stroke-width="0.8"/><text x="528.2" y="395.56" font-size="12" letter-spacing="0.5" fill="#222">0.2</text><line x1="523.6" y1="353.32" x2="525.8" y2="353.32" stroke="#000" stroke-width="0.8"/><text x="528.2" y="357.52" font-size="12" letter-spacing="0.5" fill="#222">0.4</text><line x1="523.6" y1="315.28" x2="525.8" y2="315.28" stroke="#000" stroke-width="0.8"/><text x="528.2" y="319.48" font-size="12" letter-spacing="0.5" fill="#222">0.6</text><line x1="523.6" y1="277.24" x2="525.8" y2="277.24" stroke="#000" stroke-width="0.8"/><text x="528.2" y="281.44" font-size="12" letter-spacing="0.5" fill="#222">0.8</text><line x1="523.6" y1="239.2" x2="525.8" y2="239.2" stroke="#000" stroke-width="0.8"/><text x="526" y="243.4" font-size="12" letter-spacing="0.5" fill="#222">1.0</text><text x="315.1" y="254.8" font-size="16.5" letter-spacing="0.6" fill="#f4f4f8">(d)</text><text x="313.6" y="422.2" font-size="15.2" letter-spacing="-0.4" fill="#f4f4f8">SH</text></svg></body></html>
